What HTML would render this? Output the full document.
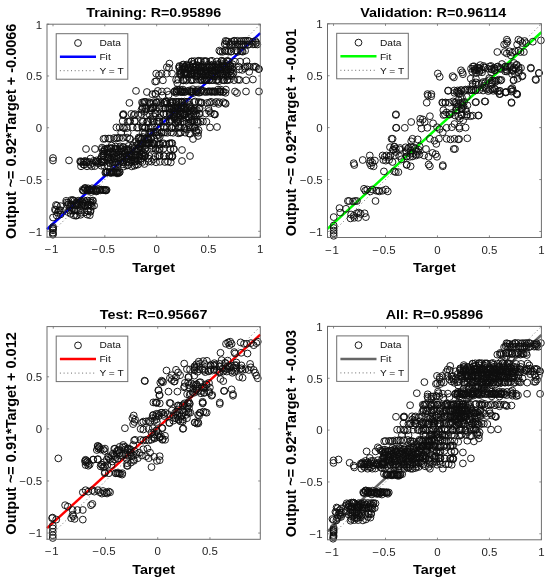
<!DOCTYPE html>
<html><head><meta charset="utf-8"><title>Regression plots</title>
<style>html,body{margin:0;padding:0;background:#fff;}body{width:550px;height:583px;overflow:hidden;}svg{display:block;font-family:"Liberation Sans",Arial,Helvetica,sans-serif;}</style>
</head><body>
<svg width="550" height="583" viewBox="0 0 550 583">
<defs><filter id="soft" x="0" y="0" width="1" height="1"><feGaussianBlur stdDeviation="0.3"/></filter></defs>
<rect width="550" height="583" fill="#fff"/>
<g filter="url(#soft)">
<g><line x1="47.00" y1="237.30" x2="260.30" y2="24.20" stroke="#5a5a5a" stroke-width="0.9" stroke-dasharray="1 2.7"/><line x1="47.00" y1="229.22" x2="260.30" y2="33.17" stroke="#0000ff" stroke-width="2.5"/><g fill="none" stroke="#111" stroke-width="0.95"><circle cx="52.9" cy="234.7" r="3.4"/><circle cx="52.9" cy="232.6" r="3.4"/><circle cx="52.9" cy="228.2" r="3.4"/><circle cx="53.0" cy="229.0" r="3.4"/><circle cx="53.1" cy="227.0" r="3.4"/><circle cx="53.0" cy="233.8" r="3.4"/><circle cx="53.0" cy="230.3" r="3.4"/><circle cx="56.7" cy="215.5" r="3.4"/><circle cx="60.7" cy="210.2" r="3.4"/><circle cx="57.1" cy="205.7" r="3.4"/><circle cx="57.6" cy="212.7" r="3.4"/><circle cx="55.8" cy="210.2" r="3.4"/><circle cx="59.3" cy="210.2" r="3.4"/><circle cx="56.0" cy="205.0" r="3.4"/><circle cx="60.6" cy="206.1" r="3.4"/><circle cx="58.6" cy="211.0" r="3.4"/><circle cx="60.6" cy="214.4" r="3.4"/><circle cx="54.9" cy="209.5" r="3.4"/><circle cx="87.3" cy="200.6" r="3.4"/><circle cx="92.6" cy="201.1" r="3.4"/><circle cx="70.5" cy="204.2" r="3.4"/><circle cx="80.5" cy="200.9" r="3.4"/><circle cx="93.0" cy="200.5" r="3.4"/><circle cx="90.0" cy="204.4" r="3.4"/><circle cx="71.8" cy="204.6" r="3.4"/><circle cx="77.7" cy="203.2" r="3.4"/><circle cx="66.4" cy="202.5" r="3.4"/><circle cx="88.5" cy="204.4" r="3.4"/><circle cx="74.1" cy="205.5" r="3.4"/><circle cx="82.5" cy="201.7" r="3.4"/><circle cx="82.7" cy="202.7" r="3.4"/><circle cx="83.8" cy="200.4" r="3.4"/><circle cx="78.3" cy="200.7" r="3.4"/><circle cx="89.9" cy="202.3" r="3.4"/><circle cx="76.2" cy="203.4" r="3.4"/><circle cx="83.1" cy="203.5" r="3.4"/><circle cx="91.9" cy="202.9" r="3.4"/><circle cx="83.9" cy="205.5" r="3.4"/><circle cx="73.1" cy="200.3" r="3.4"/><circle cx="79.8" cy="202.3" r="3.4"/><circle cx="87.5" cy="205.6" r="3.4"/><circle cx="71.1" cy="200.1" r="3.4"/><circle cx="90.5" cy="200.6" r="3.4"/><circle cx="72.8" cy="200.2" r="3.4"/><circle cx="68.6" cy="204.2" r="3.4"/><circle cx="76.1" cy="202.1" r="3.4"/><circle cx="67.4" cy="205.1" r="3.4"/><circle cx="68.0" cy="202.7" r="3.4"/><circle cx="77.0" cy="205.2" r="3.4"/><circle cx="91.0" cy="205.7" r="3.4"/><circle cx="94.1" cy="205.6" r="3.4"/><circle cx="74.4" cy="201.0" r="3.4"/><circle cx="81.4" cy="204.7" r="3.4"/><circle cx="78.9" cy="204.4" r="3.4"/><circle cx="85.5" cy="202.3" r="3.4"/><circle cx="66.2" cy="200.8" r="3.4"/><circle cx="69.5" cy="210.3" r="3.4"/><circle cx="76.0" cy="210.1" r="3.4"/><circle cx="90.5" cy="210.8" r="3.4"/><circle cx="87.4" cy="210.6" r="3.4"/><circle cx="87.3" cy="214.6" r="3.4"/><circle cx="74.4" cy="210.1" r="3.4"/><circle cx="75.9" cy="215.8" r="3.4"/><circle cx="89.8" cy="215.2" r="3.4"/><circle cx="88.3" cy="211.4" r="3.4"/><circle cx="77.0" cy="215.3" r="3.4"/><circle cx="77.8" cy="211.0" r="3.4"/><circle cx="90.4" cy="211.8" r="3.4"/><circle cx="81.9" cy="205.4" r="3.4"/><circle cx="80.9" cy="212.8" r="3.4"/><circle cx="72.1" cy="210.5" r="3.4"/><circle cx="92.0" cy="206.6" r="3.4"/><circle cx="73.8" cy="215.3" r="3.4"/><circle cx="76.8" cy="205.1" r="3.4"/><circle cx="80.5" cy="214.8" r="3.4"/><circle cx="70.8" cy="213.8" r="3.4"/><circle cx="80.6" cy="210.4" r="3.4"/><circle cx="84.9" cy="212.3" r="3.4"/><circle cx="68.1" cy="212.1" r="3.4"/><circle cx="73.8" cy="210.7" r="3.4"/><circle cx="85.4" cy="205.6" r="3.4"/><circle cx="70.0" cy="207.1" r="3.4"/><circle cx="96.2" cy="190.3" r="3.4"/><circle cx="104.3" cy="190.2" r="3.4"/><circle cx="92.7" cy="190.3" r="3.4"/><circle cx="93.5" cy="190.5" r="3.4"/><circle cx="87.6" cy="190.6" r="3.4"/><circle cx="101.3" cy="189.6" r="3.4"/><circle cx="95.4" cy="189.6" r="3.4"/><circle cx="105.9" cy="190.3" r="3.4"/><circle cx="97.9" cy="188.9" r="3.4"/><circle cx="96.4" cy="190.4" r="3.4"/><circle cx="99.9" cy="189.8" r="3.4"/><circle cx="91.2" cy="192.0" r="3.4"/><circle cx="83.1" cy="190.7" r="3.4"/><circle cx="85.4" cy="188.1" r="3.4"/><circle cx="90.0" cy="190.3" r="3.4"/><circle cx="103.6" cy="189.8" r="3.4"/><circle cx="82.6" cy="189.8" r="3.4"/><circle cx="83.6" cy="190.4" r="3.4"/><circle cx="84.8" cy="189.0" r="3.4"/><circle cx="84.9" cy="188.0" r="3.4"/><circle cx="105.4" cy="190.0" r="3.4"/><circle cx="89.4" cy="190.0" r="3.4"/><circle cx="102.5" cy="189.9" r="3.4"/><circle cx="105.9" cy="190.5" r="3.4"/><circle cx="88.1" cy="188.3" r="3.4"/><circle cx="100.3" cy="190.4" r="3.4"/><circle cx="87.4" cy="190.3" r="3.4"/><circle cx="91.1" cy="190.0" r="3.4"/><circle cx="106.6" cy="189.9" r="3.4"/><circle cx="87.0" cy="189.6" r="3.4"/><circle cx="92.1" cy="188.3" r="3.4"/><circle cx="97.0" cy="191.1" r="3.4"/><circle cx="89.3" cy="189.5" r="3.4"/><circle cx="96.2" cy="191.5" r="3.4"/><circle cx="111.4" cy="173.0" r="3.4"/><circle cx="112.8" cy="172.0" r="3.4"/><circle cx="106.0" cy="172.0" r="3.4"/><circle cx="113.4" cy="172.4" r="3.4"/><circle cx="111.1" cy="172.5" r="3.4"/><circle cx="117.0" cy="173.4" r="3.4"/><circle cx="118.4" cy="173.2" r="3.4"/><circle cx="119.4" cy="172.4" r="3.4"/><circle cx="109.5" cy="172.0" r="3.4"/><circle cx="115.5" cy="172.2" r="3.4"/><circle cx="106.2" cy="172.1" r="3.4"/><circle cx="119.8" cy="172.0" r="3.4"/><circle cx="107.3" cy="172.4" r="3.4"/><circle cx="117.9" cy="171.9" r="3.4"/><circle cx="116.5" cy="172.5" r="3.4"/><circle cx="117.1" cy="172.3" r="3.4"/><circle cx="105.3" cy="172.8" r="3.4"/><circle cx="109.8" cy="172.7" r="3.4"/><circle cx="107.3" cy="172.1" r="3.4"/><circle cx="114.4" cy="172.3" r="3.4"/><circle cx="80.6" cy="162.1" r="3.4"/><circle cx="81.3" cy="161.6" r="3.4"/><circle cx="84.3" cy="164.7" r="3.4"/><circle cx="101.6" cy="162.6" r="3.4"/><circle cx="95.6" cy="161.8" r="3.4"/><circle cx="80.2" cy="161.2" r="3.4"/><circle cx="94.7" cy="166.1" r="3.4"/><circle cx="93.7" cy="160.9" r="3.4"/><circle cx="85.1" cy="160.9" r="3.4"/><circle cx="97.3" cy="162.0" r="3.4"/><circle cx="100.2" cy="159.3" r="3.4"/><circle cx="96.5" cy="160.4" r="3.4"/><circle cx="92.7" cy="163.0" r="3.4"/><circle cx="90.5" cy="158.6" r="3.4"/><circle cx="84.0" cy="162.2" r="3.4"/><circle cx="88.9" cy="161.9" r="3.4"/><circle cx="90.2" cy="164.8" r="3.4"/><circle cx="83.3" cy="161.6" r="3.4"/><circle cx="81.0" cy="166.3" r="3.4"/><circle cx="86.3" cy="162.0" r="3.4"/><circle cx="83.4" cy="164.5" r="3.4"/><circle cx="101.3" cy="161.5" r="3.4"/><circle cx="98.4" cy="163.4" r="3.4"/><circle cx="97.4" cy="161.6" r="3.4"/><circle cx="87.0" cy="162.1" r="3.4"/><circle cx="101.4" cy="165.8" r="3.4"/><circle cx="91.7" cy="166.3" r="3.4"/><circle cx="87.0" cy="166.3" r="3.4"/><circle cx="135.1" cy="151.7" r="3.4"/><circle cx="134.6" cy="161.6" r="3.4"/><circle cx="109.2" cy="157.6" r="3.4"/><circle cx="103.0" cy="151.4" r="3.4"/><circle cx="134.4" cy="148.7" r="3.4"/><circle cx="116.3" cy="152.7" r="3.4"/><circle cx="123.8" cy="147.2" r="3.4"/><circle cx="101.7" cy="156.2" r="3.4"/><circle cx="140.6" cy="161.1" r="3.4"/><circle cx="123.7" cy="166.5" r="3.4"/><circle cx="143.0" cy="152.4" r="3.4"/><circle cx="122.4" cy="154.8" r="3.4"/><circle cx="123.0" cy="161.9" r="3.4"/><circle cx="124.3" cy="150.0" r="3.4"/><circle cx="145.0" cy="145.5" r="3.4"/><circle cx="103.0" cy="155.0" r="3.4"/><circle cx="142.2" cy="148.5" r="3.4"/><circle cx="108.1" cy="160.3" r="3.4"/><circle cx="120.4" cy="157.6" r="3.4"/><circle cx="107.4" cy="149.1" r="3.4"/><circle cx="118.7" cy="150.7" r="3.4"/><circle cx="122.9" cy="164.4" r="3.4"/><circle cx="128.4" cy="146.0" r="3.4"/><circle cx="111.6" cy="156.0" r="3.4"/><circle cx="130.9" cy="154.7" r="3.4"/><circle cx="109.2" cy="162.0" r="3.4"/><circle cx="118.6" cy="154.1" r="3.4"/><circle cx="109.9" cy="152.2" r="3.4"/><circle cx="128.9" cy="149.0" r="3.4"/><circle cx="125.0" cy="157.2" r="3.4"/><circle cx="104.9" cy="149.0" r="3.4"/><circle cx="128.9" cy="156.1" r="3.4"/><circle cx="126.7" cy="162.0" r="3.4"/><circle cx="107.4" cy="153.8" r="3.4"/><circle cx="102.4" cy="161.7" r="3.4"/><circle cx="108.4" cy="158.5" r="3.4"/><circle cx="111.1" cy="159.7" r="3.4"/><circle cx="131.6" cy="162.1" r="3.4"/><circle cx="126.7" cy="159.3" r="3.4"/><circle cx="121.6" cy="151.5" r="3.4"/><circle cx="108.1" cy="152.7" r="3.4"/><circle cx="109.3" cy="148.3" r="3.4"/><circle cx="126.4" cy="149.1" r="3.4"/><circle cx="141.4" cy="158.6" r="3.4"/><circle cx="138.1" cy="160.0" r="3.4"/><circle cx="110.7" cy="148.5" r="3.4"/><circle cx="120.2" cy="146.4" r="3.4"/><circle cx="123.3" cy="162.4" r="3.4"/><circle cx="138.7" cy="148.5" r="3.4"/><circle cx="136.1" cy="145.6" r="3.4"/><circle cx="122.8" cy="147.0" r="3.4"/><circle cx="115.3" cy="148.5" r="3.4"/><circle cx="122.2" cy="156.5" r="3.4"/><circle cx="114.9" cy="162.5" r="3.4"/><circle cx="137.9" cy="164.6" r="3.4"/><circle cx="141.6" cy="154.4" r="3.4"/><circle cx="124.8" cy="154.1" r="3.4"/><circle cx="113.8" cy="157.2" r="3.4"/><circle cx="134.1" cy="159.8" r="3.4"/><circle cx="128.3" cy="150.6" r="3.4"/><circle cx="104.3" cy="166.1" r="3.4"/><circle cx="103.5" cy="155.7" r="3.4"/><circle cx="131.7" cy="155.7" r="3.4"/><circle cx="101.1" cy="161.9" r="3.4"/><circle cx="137.0" cy="155.7" r="3.4"/><circle cx="127.3" cy="149.7" r="3.4"/><circle cx="103.3" cy="156.1" r="3.4"/><circle cx="108.1" cy="157.9" r="3.4"/><circle cx="139.7" cy="156.2" r="3.4"/><circle cx="104.5" cy="150.0" r="3.4"/><circle cx="116.7" cy="158.3" r="3.4"/><circle cx="103.8" cy="162.4" r="3.4"/><circle cx="115.9" cy="149.0" r="3.4"/><circle cx="114.2" cy="158.5" r="3.4"/><circle cx="134.5" cy="165.7" r="3.4"/><circle cx="140.1" cy="146.1" r="3.4"/><circle cx="104.1" cy="153.4" r="3.4"/><circle cx="135.7" cy="154.7" r="3.4"/><circle cx="144.5" cy="155.7" r="3.4"/><circle cx="113.2" cy="165.0" r="3.4"/><circle cx="134.7" cy="157.6" r="3.4"/><circle cx="107.2" cy="156.5" r="3.4"/><circle cx="107.0" cy="148.5" r="3.4"/><circle cx="115.2" cy="165.0" r="3.4"/><circle cx="126.4" cy="156.4" r="3.4"/><circle cx="131.0" cy="150.0" r="3.4"/><circle cx="102.0" cy="147.6" r="3.4"/><circle cx="142.4" cy="156.1" r="3.4"/><circle cx="144.4" cy="164.0" r="3.4"/><circle cx="130.6" cy="159.6" r="3.4"/><circle cx="132.2" cy="157.7" r="3.4"/><circle cx="104.4" cy="159.4" r="3.4"/><circle cx="118.7" cy="158.0" r="3.4"/><circle cx="111.6" cy="145.6" r="3.4"/><circle cx="137.9" cy="148.7" r="3.4"/><circle cx="115.5" cy="146.5" r="3.4"/><circle cx="127.1" cy="165.5" r="3.4"/><circle cx="131.8" cy="166.4" r="3.4"/><circle cx="120.4" cy="161.6" r="3.4"/><circle cx="143.4" cy="153.2" r="3.4"/><circle cx="135.7" cy="156.1" r="3.4"/><circle cx="114.4" cy="153.6" r="3.4"/><circle cx="144.4" cy="157.0" r="3.4"/><circle cx="101.9" cy="149.1" r="3.4"/><circle cx="121.8" cy="149.0" r="3.4"/><circle cx="125.6" cy="152.7" r="3.4"/><circle cx="123.1" cy="151.9" r="3.4"/><circle cx="122.5" cy="159.5" r="3.4"/><circle cx="108.2" cy="165.8" r="3.4"/><circle cx="115.9" cy="156.2" r="3.4"/><circle cx="142.5" cy="162.0" r="3.4"/><circle cx="104.1" cy="151.6" r="3.4"/><circle cx="117.9" cy="164.3" r="3.4"/><circle cx="110.1" cy="163.4" r="3.4"/><circle cx="112.3" cy="162.2" r="3.4"/><circle cx="132.9" cy="145.6" r="3.4"/><circle cx="128.1" cy="165.0" r="3.4"/><circle cx="139.6" cy="146.8" r="3.4"/><circle cx="118.8" cy="163.8" r="3.4"/><circle cx="139.5" cy="155.9" r="3.4"/><circle cx="128.0" cy="159.1" r="3.4"/><circle cx="115.9" cy="161.9" r="3.4"/><circle cx="137.8" cy="160.4" r="3.4"/><circle cx="137.0" cy="148.8" r="3.4"/><circle cx="140.9" cy="148.1" r="3.4"/><circle cx="132.2" cy="147.4" r="3.4"/><circle cx="135.5" cy="161.6" r="3.4"/><circle cx="137.3" cy="151.3" r="3.4"/><circle cx="119.8" cy="148.5" r="3.4"/><circle cx="129.8" cy="154.4" r="3.4"/><circle cx="111.2" cy="148.0" r="3.4"/><circle cx="129.8" cy="162.5" r="3.4"/><circle cx="144.8" cy="149.3" r="3.4"/><circle cx="114.8" cy="149.1" r="3.4"/><circle cx="127.6" cy="155.7" r="3.4"/><circle cx="136.0" cy="164.5" r="3.4"/><circle cx="117.1" cy="149.9" r="3.4"/><circle cx="134.4" cy="155.8" r="3.4"/><circle cx="112.6" cy="151.4" r="3.4"/><circle cx="113.1" cy="153.9" r="3.4"/><circle cx="151.4" cy="161.6" r="3.4"/><circle cx="155.4" cy="149.1" r="3.4"/><circle cx="159.0" cy="148.8" r="3.4"/><circle cx="145.3" cy="154.1" r="3.4"/><circle cx="156.1" cy="162.3" r="3.4"/><circle cx="163.6" cy="148.6" r="3.4"/><circle cx="170.8" cy="162.4" r="3.4"/><circle cx="169.4" cy="155.9" r="3.4"/><circle cx="169.8" cy="143.2" r="3.4"/><circle cx="169.3" cy="156.3" r="3.4"/><circle cx="153.3" cy="143.8" r="3.4"/><circle cx="157.9" cy="156.2" r="3.4"/><circle cx="172.1" cy="155.7" r="3.4"/><circle cx="172.3" cy="143.3" r="3.4"/><circle cx="163.7" cy="155.8" r="3.4"/><circle cx="166.3" cy="144.6" r="3.4"/><circle cx="159.9" cy="144.7" r="3.4"/><circle cx="173.6" cy="149.4" r="3.4"/><circle cx="159.4" cy="155.8" r="3.4"/><circle cx="145.4" cy="143.3" r="3.4"/><circle cx="159.9" cy="161.8" r="3.4"/><circle cx="170.4" cy="149.1" r="3.4"/><circle cx="151.6" cy="148.8" r="3.4"/><circle cx="159.7" cy="149.2" r="3.4"/><circle cx="162.6" cy="143.9" r="3.4"/><circle cx="172.5" cy="156.3" r="3.4"/><circle cx="164.9" cy="162.0" r="3.4"/><circle cx="149.0" cy="155.9" r="3.4"/><circle cx="145.3" cy="148.6" r="3.4"/><circle cx="148.7" cy="158.6" r="3.4"/><circle cx="167.9" cy="161.7" r="3.4"/><circle cx="156.0" cy="148.6" r="3.4"/><circle cx="148.6" cy="161.6" r="3.4"/><circle cx="155.3" cy="156.4" r="3.4"/><circle cx="145.1" cy="156.0" r="3.4"/><circle cx="171.4" cy="143.2" r="3.4"/><circle cx="152.5" cy="143.3" r="3.4"/><circle cx="164.3" cy="156.3" r="3.4"/><circle cx="153.1" cy="148.3" r="3.4"/><circle cx="163.5" cy="143.3" r="3.4"/><circle cx="159.7" cy="155.8" r="3.4"/><circle cx="148.7" cy="143.0" r="3.4"/><circle cx="153.4" cy="159.3" r="3.4"/><circle cx="148.7" cy="143.4" r="3.4"/><circle cx="169.3" cy="143.7" r="3.4"/><circle cx="148.7" cy="139.5" r="3.4"/><circle cx="147.5" cy="139.3" r="3.4"/><circle cx="138.3" cy="138.9" r="3.4"/><circle cx="144.7" cy="138.5" r="3.4"/><circle cx="146.9" cy="143.7" r="3.4"/><circle cx="138.7" cy="137.5" r="3.4"/><circle cx="142.9" cy="137.0" r="3.4"/><circle cx="140.4" cy="137.7" r="3.4"/><circle cx="141.6" cy="143.9" r="3.4"/><circle cx="148.1" cy="143.7" r="3.4"/><circle cx="137.9" cy="144.3" r="3.4"/><circle cx="148.8" cy="139.3" r="3.4"/><circle cx="139.2" cy="138.6" r="3.4"/><circle cx="146.8" cy="143.8" r="3.4"/><circle cx="142.6" cy="143.8" r="3.4"/><circle cx="146.4" cy="138.8" r="3.4"/><circle cx="141.6" cy="139.1" r="3.4"/><circle cx="140.4" cy="143.8" r="3.4"/><circle cx="136.2" cy="141.7" r="3.4"/><circle cx="142.3" cy="143.9" r="3.4"/><circle cx="147.8" cy="139.0" r="3.4"/><circle cx="149.8" cy="143.1" r="3.4"/><circle cx="150.4" cy="132.0" r="3.4"/><circle cx="159.2" cy="143.8" r="3.4"/><circle cx="159.7" cy="136.9" r="3.4"/><circle cx="157.1" cy="132.0" r="3.4"/><circle cx="158.3" cy="144.9" r="3.4"/><circle cx="157.7" cy="138.7" r="3.4"/><circle cx="147.1" cy="142.3" r="3.4"/><circle cx="154.3" cy="138.9" r="3.4"/><circle cx="150.8" cy="137.4" r="3.4"/><circle cx="151.6" cy="145.6" r="3.4"/><circle cx="154.3" cy="143.9" r="3.4"/><circle cx="151.2" cy="139.0" r="3.4"/><circle cx="149.4" cy="132.8" r="3.4"/><circle cx="119.4" cy="137.8" r="3.4"/><circle cx="130.2" cy="138.9" r="3.4"/><circle cx="127.1" cy="137.6" r="3.4"/><circle cx="114.1" cy="138.0" r="3.4"/><circle cx="105.1" cy="138.6" r="3.4"/><circle cx="117.5" cy="137.9" r="3.4"/><circle cx="129.5" cy="138.7" r="3.4"/><circle cx="110.1" cy="138.6" r="3.4"/><circle cx="108.3" cy="138.6" r="3.4"/><circle cx="122.7" cy="137.9" r="3.4"/><circle cx="103.5" cy="138.9" r="3.4"/><circle cx="116.0" cy="138.6" r="3.4"/><circle cx="159.5" cy="121.7" r="3.4"/><circle cx="152.7" cy="127.3" r="3.4"/><circle cx="179.8" cy="132.9" r="3.4"/><circle cx="148.7" cy="128.0" r="3.4"/><circle cx="170.2" cy="121.5" r="3.4"/><circle cx="146.2" cy="108.9" r="3.4"/><circle cx="160.3" cy="113.7" r="3.4"/><circle cx="159.0" cy="121.3" r="3.4"/><circle cx="178.6" cy="127.6" r="3.4"/><circle cx="170.6" cy="112.6" r="3.4"/><circle cx="184.3" cy="127.9" r="3.4"/><circle cx="141.5" cy="109.7" r="3.4"/><circle cx="171.0" cy="103.4" r="3.4"/><circle cx="163.5" cy="113.9" r="3.4"/><circle cx="163.5" cy="132.7" r="3.4"/><circle cx="169.3" cy="108.3" r="3.4"/><circle cx="157.5" cy="127.7" r="3.4"/><circle cx="156.8" cy="121.2" r="3.4"/><circle cx="145.2" cy="108.0" r="3.4"/><circle cx="172.2" cy="121.2" r="3.4"/><circle cx="182.4" cy="113.9" r="3.4"/><circle cx="167.0" cy="127.8" r="3.4"/><circle cx="156.6" cy="135.4" r="3.4"/><circle cx="178.7" cy="101.8" r="3.4"/><circle cx="142.6" cy="106.9" r="3.4"/><circle cx="184.1" cy="121.6" r="3.4"/><circle cx="180.7" cy="102.3" r="3.4"/><circle cx="155.7" cy="108.8" r="3.4"/><circle cx="156.1" cy="102.4" r="3.4"/><circle cx="178.0" cy="108.8" r="3.4"/><circle cx="161.5" cy="132.7" r="3.4"/><circle cx="165.4" cy="132.4" r="3.4"/><circle cx="144.1" cy="102.0" r="3.4"/><circle cx="165.3" cy="120.4" r="3.4"/><circle cx="159.0" cy="117.6" r="3.4"/><circle cx="152.3" cy="107.4" r="3.4"/><circle cx="160.3" cy="127.3" r="3.4"/><circle cx="184.4" cy="128.2" r="3.4"/><circle cx="155.1" cy="113.6" r="3.4"/><circle cx="161.8" cy="132.1" r="3.4"/><circle cx="182.9" cy="121.2" r="3.4"/><circle cx="146.5" cy="115.3" r="3.4"/><circle cx="178.2" cy="133.3" r="3.4"/><circle cx="175.2" cy="123.0" r="3.4"/><circle cx="153.8" cy="121.4" r="3.4"/><circle cx="173.3" cy="101.9" r="3.4"/><circle cx="153.5" cy="132.1" r="3.4"/><circle cx="177.2" cy="114.1" r="3.4"/><circle cx="166.2" cy="113.7" r="3.4"/><circle cx="173.8" cy="114.4" r="3.4"/><circle cx="150.7" cy="119.1" r="3.4"/><circle cx="174.2" cy="108.3" r="3.4"/><circle cx="171.2" cy="108.9" r="3.4"/><circle cx="144.7" cy="127.8" r="3.4"/><circle cx="171.4" cy="127.5" r="3.4"/><circle cx="149.9" cy="103.8" r="3.4"/><circle cx="156.9" cy="102.5" r="3.4"/><circle cx="175.8" cy="108.5" r="3.4"/><circle cx="183.4" cy="108.9" r="3.4"/><circle cx="147.1" cy="121.7" r="3.4"/><circle cx="180.8" cy="108.3" r="3.4"/><circle cx="170.8" cy="132.4" r="3.4"/><circle cx="182.8" cy="101.9" r="3.4"/><circle cx="150.9" cy="108.2" r="3.4"/><circle cx="179.7" cy="127.5" r="3.4"/><circle cx="149.2" cy="102.2" r="3.4"/><circle cx="163.2" cy="121.3" r="3.4"/><circle cx="153.7" cy="106.8" r="3.4"/><circle cx="173.1" cy="132.8" r="3.4"/><circle cx="180.3" cy="114.0" r="3.4"/><circle cx="149.3" cy="114.3" r="3.4"/><circle cx="164.1" cy="102.4" r="3.4"/><circle cx="165.5" cy="108.1" r="3.4"/><circle cx="142.2" cy="126.3" r="3.4"/><circle cx="142.5" cy="121.4" r="3.4"/><circle cx="152.4" cy="121.0" r="3.4"/><circle cx="142.5" cy="128.0" r="3.4"/><circle cx="180.5" cy="121.8" r="3.4"/><circle cx="158.7" cy="135.1" r="3.4"/><circle cx="143.2" cy="121.8" r="3.4"/><circle cx="146.0" cy="101.9" r="3.4"/><circle cx="185.1" cy="113.8" r="3.4"/><circle cx="171.8" cy="128.1" r="3.4"/><circle cx="144.9" cy="132.9" r="3.4"/><circle cx="150.3" cy="108.3" r="3.4"/><circle cx="145.4" cy="127.5" r="3.4"/><circle cx="168.0" cy="108.6" r="3.4"/><circle cx="169.6" cy="114.2" r="3.4"/><circle cx="158.3" cy="101.9" r="3.4"/><circle cx="150.5" cy="132.7" r="3.4"/><circle cx="181.6" cy="101.7" r="3.4"/><circle cx="185.0" cy="115.0" r="3.4"/><circle cx="167.4" cy="132.8" r="3.4"/><circle cx="144.7" cy="102.0" r="3.4"/><circle cx="159.5" cy="108.7" r="3.4"/><circle cx="151.6" cy="132.2" r="3.4"/><circle cx="175.6" cy="128.1" r="3.4"/><circle cx="165.1" cy="108.4" r="3.4"/><circle cx="163.7" cy="113.9" r="3.4"/><circle cx="178.0" cy="121.4" r="3.4"/><circle cx="180.7" cy="127.7" r="3.4"/><circle cx="165.8" cy="101.6" r="3.4"/><circle cx="172.5" cy="101.8" r="3.4"/><circle cx="183.3" cy="105.5" r="3.4"/><circle cx="169.8" cy="121.3" r="3.4"/><circle cx="165.4" cy="121.6" r="3.4"/><circle cx="172.2" cy="127.8" r="3.4"/><circle cx="153.7" cy="116.4" r="3.4"/><circle cx="142.6" cy="108.5" r="3.4"/><circle cx="150.5" cy="128.0" r="3.4"/><circle cx="178.0" cy="122.0" r="3.4"/><circle cx="157.9" cy="121.5" r="3.4"/><circle cx="152.6" cy="108.4" r="3.4"/><circle cx="178.9" cy="127.4" r="3.4"/><circle cx="166.4" cy="101.6" r="3.4"/><circle cx="147.5" cy="121.3" r="3.4"/><circle cx="141.4" cy="114.2" r="3.4"/><circle cx="163.0" cy="108.8" r="3.4"/><circle cx="155.1" cy="132.1" r="3.4"/><circle cx="178.7" cy="108.6" r="3.4"/><circle cx="153.7" cy="102.2" r="3.4"/><circle cx="164.4" cy="127.6" r="3.4"/><circle cx="159.9" cy="105.9" r="3.4"/><circle cx="174.2" cy="114.3" r="3.4"/><circle cx="148.4" cy="121.8" r="3.4"/><circle cx="163.6" cy="127.2" r="3.4"/><circle cx="185.1" cy="132.6" r="3.4"/><circle cx="180.8" cy="132.5" r="3.4"/><circle cx="142.8" cy="132.6" r="3.4"/><circle cx="155.9" cy="113.5" r="3.4"/><circle cx="180.6" cy="111.3" r="3.4"/><circle cx="173.3" cy="107.1" r="3.4"/><circle cx="189.7" cy="104.9" r="3.4"/><circle cx="184.2" cy="109.0" r="3.4"/><circle cx="173.8" cy="117.1" r="3.4"/><circle cx="177.2" cy="110.2" r="3.4"/><circle cx="179.0" cy="119.8" r="3.4"/><circle cx="175.2" cy="113.1" r="3.4"/><circle cx="176.9" cy="119.9" r="3.4"/><circle cx="185.1" cy="108.1" r="3.4"/><circle cx="185.4" cy="111.0" r="3.4"/><circle cx="175.1" cy="116.6" r="3.4"/><circle cx="180.8" cy="105.5" r="3.4"/><circle cx="191.6" cy="116.7" r="3.4"/><circle cx="192.8" cy="111.0" r="3.4"/><circle cx="181.4" cy="108.6" r="3.4"/><circle cx="176.9" cy="108.1" r="3.4"/><circle cx="178.1" cy="117.4" r="3.4"/><circle cx="169.9" cy="108.9" r="3.4"/><circle cx="174.5" cy="118.8" r="3.4"/><circle cx="171.3" cy="105.9" r="3.4"/><circle cx="173.3" cy="110.8" r="3.4"/><circle cx="186.1" cy="117.7" r="3.4"/><circle cx="189.1" cy="118.9" r="3.4"/><circle cx="190.9" cy="108.9" r="3.4"/><circle cx="189.8" cy="110.5" r="3.4"/><circle cx="187.7" cy="111.8" r="3.4"/><circle cx="183.0" cy="114.1" r="3.4"/><circle cx="188.6" cy="117.1" r="3.4"/><circle cx="184.5" cy="114.9" r="3.4"/><circle cx="190.2" cy="106.5" r="3.4"/><circle cx="171.2" cy="119.8" r="3.4"/><circle cx="192.5" cy="120.1" r="3.4"/><circle cx="174.9" cy="111.6" r="3.4"/><circle cx="183.4" cy="113.9" r="3.4"/><circle cx="181.5" cy="107.4" r="3.4"/><circle cx="169.9" cy="114.0" r="3.4"/><circle cx="181.9" cy="118.4" r="3.4"/><circle cx="170.8" cy="115.6" r="3.4"/><circle cx="178.1" cy="107.5" r="3.4"/><circle cx="122.7" cy="121.1" r="3.4"/><circle cx="137.0" cy="127.8" r="3.4"/><circle cx="124.1" cy="128.2" r="3.4"/><circle cx="130.2" cy="121.1" r="3.4"/><circle cx="127.7" cy="121.5" r="3.4"/><circle cx="134.9" cy="114.1" r="3.4"/><circle cx="131.3" cy="113.9" r="3.4"/><circle cx="127.7" cy="132.8" r="3.4"/><circle cx="121.2" cy="132.7" r="3.4"/><circle cx="134.7" cy="121.5" r="3.4"/><circle cx="123.4" cy="114.0" r="3.4"/><circle cx="138.0" cy="127.5" r="3.4"/><circle cx="194.8" cy="119.5" r="3.4"/><circle cx="193.0" cy="110.0" r="3.4"/><circle cx="192.9" cy="127.3" r="3.4"/><circle cx="197.1" cy="121.7" r="3.4"/><circle cx="196.1" cy="132.0" r="3.4"/><circle cx="191.4" cy="121.1" r="3.4"/><circle cx="198.5" cy="122.8" r="3.4"/><circle cx="189.1" cy="133.6" r="3.4"/><circle cx="194.6" cy="128.1" r="3.4"/><circle cx="189.0" cy="125.4" r="3.4"/><circle cx="193.8" cy="113.8" r="3.4"/><circle cx="194.8" cy="108.6" r="3.4"/><circle cx="188.6" cy="117.0" r="3.4"/><circle cx="196.2" cy="130.7" r="3.4"/><circle cx="189.6" cy="127.4" r="3.4"/><circle cx="190.7" cy="121.8" r="3.4"/><circle cx="199.1" cy="108.9" r="3.4"/><circle cx="190.0" cy="113.7" r="3.4"/><circle cx="199.7" cy="113.9" r="3.4"/><circle cx="198.6" cy="130.1" r="3.4"/><circle cx="199.0" cy="113.6" r="3.4"/><circle cx="187.2" cy="129.7" r="3.4"/><circle cx="195.5" cy="114.4" r="3.4"/><circle cx="188.3" cy="108.0" r="3.4"/><circle cx="186.8" cy="108.9" r="3.4"/><circle cx="190.3" cy="133.8" r="3.4"/><circle cx="191.5" cy="108.6" r="3.4"/><circle cx="194.2" cy="121.7" r="3.4"/><circle cx="198.1" cy="132.8" r="3.4"/><circle cx="188.4" cy="123.0" r="3.4"/><circle cx="214.6" cy="114.4" r="3.4"/><circle cx="203.0" cy="121.5" r="3.4"/><circle cx="196.7" cy="115.2" r="3.4"/><circle cx="206.4" cy="121.7" r="3.4"/><circle cx="205.9" cy="113.6" r="3.4"/><circle cx="196.8" cy="110.0" r="3.4"/><circle cx="197.1" cy="121.8" r="3.4"/><circle cx="210.0" cy="127.4" r="3.4"/><circle cx="210.7" cy="113.0" r="3.4"/><circle cx="200.8" cy="121.5" r="3.4"/><circle cx="208.4" cy="108.4" r="3.4"/><circle cx="199.8" cy="108.0" r="3.4"/><circle cx="181.9" cy="102.3" r="3.4"/><circle cx="200.4" cy="102.4" r="3.4"/><circle cx="175.8" cy="101.7" r="3.4"/><circle cx="216.3" cy="101.9" r="3.4"/><circle cx="223.2" cy="102.2" r="3.4"/><circle cx="219.2" cy="102.2" r="3.4"/><circle cx="194.0" cy="102.1" r="3.4"/><circle cx="184.6" cy="101.6" r="3.4"/><circle cx="209.6" cy="102.6" r="3.4"/><circle cx="178.9" cy="102.0" r="3.4"/><circle cx="166.4" cy="102.0" r="3.4"/><circle cx="198.7" cy="102.0" r="3.4"/><circle cx="161.0" cy="103.2" r="3.4"/><circle cx="211.1" cy="101.8" r="3.4"/><circle cx="164.3" cy="103.0" r="3.4"/><circle cx="171.7" cy="102.1" r="3.4"/><circle cx="201.9" cy="102.6" r="3.4"/><circle cx="167.1" cy="103.7" r="3.4"/><circle cx="218.5" cy="103.9" r="3.4"/><circle cx="188.9" cy="101.8" r="3.4"/><circle cx="187.1" cy="101.8" r="3.4"/><circle cx="225.7" cy="103.8" r="3.4"/><circle cx="195.2" cy="101.5" r="3.4"/><circle cx="176.7" cy="101.9" r="3.4"/><circle cx="170.1" cy="102.1" r="3.4"/><circle cx="182.3" cy="91.2" r="3.4"/><circle cx="219.8" cy="91.6" r="3.4"/><circle cx="225.5" cy="92.8" r="3.4"/><circle cx="176.5" cy="91.4" r="3.4"/><circle cx="212.6" cy="91.7" r="3.4"/><circle cx="209.9" cy="91.4" r="3.4"/><circle cx="223.7" cy="91.9" r="3.4"/><circle cx="176.3" cy="91.1" r="3.4"/><circle cx="189.8" cy="91.7" r="3.4"/><circle cx="213.1" cy="91.2" r="3.4"/><circle cx="177.0" cy="89.6" r="3.4"/><circle cx="220.4" cy="91.3" r="3.4"/><circle cx="225.9" cy="89.6" r="3.4"/><circle cx="185.4" cy="91.7" r="3.4"/><circle cx="219.5" cy="91.6" r="3.4"/><circle cx="214.8" cy="91.6" r="3.4"/><circle cx="193.2" cy="91.5" r="3.4"/><circle cx="182.3" cy="91.5" r="3.4"/><circle cx="183.0" cy="89.6" r="3.4"/><circle cx="218.1" cy="89.6" r="3.4"/><circle cx="180.2" cy="89.7" r="3.4"/><circle cx="192.1" cy="91.5" r="3.4"/><circle cx="203.6" cy="91.0" r="3.4"/><circle cx="174.2" cy="92.1" r="3.4"/><circle cx="207.9" cy="91.6" r="3.4"/><circle cx="201.2" cy="90.0" r="3.4"/><circle cx="192.8" cy="93.2" r="3.4"/><circle cx="197.1" cy="91.4" r="3.4"/><circle cx="176.1" cy="92.9" r="3.4"/><circle cx="198.9" cy="92.7" r="3.4"/><circle cx="222.7" cy="91.9" r="3.4"/><circle cx="184.2" cy="92.2" r="3.4"/><circle cx="211.0" cy="91.9" r="3.4"/><circle cx="177.0" cy="91.7" r="3.4"/><circle cx="174.6" cy="91.2" r="3.4"/><circle cx="191.1" cy="91.3" r="3.4"/><circle cx="196.4" cy="92.0" r="3.4"/><circle cx="197.3" cy="92.2" r="3.4"/><circle cx="211.2" cy="91.4" r="3.4"/><circle cx="181.7" cy="92.1" r="3.4"/><circle cx="180.2" cy="91.4" r="3.4"/><circle cx="195.9" cy="91.1" r="3.4"/><circle cx="178.5" cy="90.5" r="3.4"/><circle cx="206.4" cy="92.0" r="3.4"/><circle cx="197.4" cy="89.8" r="3.4"/><circle cx="184.3" cy="91.2" r="3.4"/><circle cx="192.8" cy="89.2" r="3.4"/><circle cx="191.8" cy="92.0" r="3.4"/><circle cx="220.7" cy="89.6" r="3.4"/><circle cx="214.2" cy="91.6" r="3.4"/><circle cx="189.2" cy="90.5" r="3.4"/><circle cx="204.5" cy="91.9" r="3.4"/><circle cx="187.5" cy="91.2" r="3.4"/><circle cx="217.5" cy="91.8" r="3.4"/><circle cx="180.5" cy="92.0" r="3.4"/><circle cx="220.8" cy="91.8" r="3.4"/><circle cx="208.7" cy="91.3" r="3.4"/><circle cx="215.5" cy="91.9" r="3.4"/><circle cx="201.1" cy="90.9" r="3.4"/><circle cx="200.6" cy="92.2" r="3.4"/><circle cx="155.2" cy="93.6" r="3.4"/><circle cx="168.7" cy="94.8" r="3.4"/><circle cx="167.1" cy="91.3" r="3.4"/><circle cx="162.5" cy="95.4" r="3.4"/><circle cx="161.9" cy="91.5" r="3.4"/><circle cx="191.9" cy="80.2" r="3.4"/><circle cx="224.2" cy="80.3" r="3.4"/><circle cx="252.9" cy="79.5" r="3.4"/><circle cx="238.0" cy="79.6" r="3.4"/><circle cx="186.2" cy="80.5" r="3.4"/><circle cx="162.9" cy="80.3" r="3.4"/><circle cx="183.2" cy="80.3" r="3.4"/><circle cx="218.7" cy="81.2" r="3.4"/><circle cx="176.1" cy="79.9" r="3.4"/><circle cx="156.4" cy="81.2" r="3.4"/><circle cx="239.5" cy="80.0" r="3.4"/><circle cx="204.5" cy="79.8" r="3.4"/><circle cx="246.1" cy="80.3" r="3.4"/><circle cx="227.2" cy="80.0" r="3.4"/><circle cx="217.1" cy="80.0" r="3.4"/><circle cx="216.1" cy="80.5" r="3.4"/><circle cx="201.8" cy="80.0" r="3.4"/><circle cx="212.0" cy="80.1" r="3.4"/><circle cx="196.6" cy="79.7" r="3.4"/><circle cx="227.4" cy="80.2" r="3.4"/><circle cx="190.9" cy="80.2" r="3.4"/><circle cx="208.9" cy="80.2" r="3.4"/><circle cx="183.1" cy="80.4" r="3.4"/><circle cx="229.8" cy="79.7" r="3.4"/><circle cx="195.9" cy="66.9" r="3.4"/><circle cx="225.5" cy="67.8" r="3.4"/><circle cx="183.8" cy="68.2" r="3.4"/><circle cx="181.6" cy="72.0" r="3.4"/><circle cx="180.8" cy="74.1" r="3.4"/><circle cx="211.6" cy="65.6" r="3.4"/><circle cx="222.4" cy="64.1" r="3.4"/><circle cx="198.4" cy="65.7" r="3.4"/><circle cx="190.6" cy="74.0" r="3.4"/><circle cx="228.5" cy="66.9" r="3.4"/><circle cx="199.3" cy="68.4" r="3.4"/><circle cx="205.7" cy="69.9" r="3.4"/><circle cx="209.1" cy="75.7" r="3.4"/><circle cx="218.1" cy="64.0" r="3.4"/><circle cx="231.7" cy="76.1" r="3.4"/><circle cx="202.4" cy="64.8" r="3.4"/><circle cx="230.9" cy="73.6" r="3.4"/><circle cx="208.2" cy="71.1" r="3.4"/><circle cx="206.5" cy="67.0" r="3.4"/><circle cx="225.9" cy="75.2" r="3.4"/><circle cx="190.7" cy="74.2" r="3.4"/><circle cx="207.3" cy="72.8" r="3.4"/><circle cx="191.8" cy="73.3" r="3.4"/><circle cx="224.2" cy="66.8" r="3.4"/><circle cx="197.1" cy="73.4" r="3.4"/><circle cx="231.9" cy="68.8" r="3.4"/><circle cx="183.7" cy="74.1" r="3.4"/><circle cx="180.1" cy="70.7" r="3.4"/><circle cx="216.5" cy="67.9" r="3.4"/><circle cx="215.8" cy="71.3" r="3.4"/><circle cx="203.6" cy="71.7" r="3.4"/><circle cx="230.6" cy="66.2" r="3.4"/><circle cx="179.6" cy="74.0" r="3.4"/><circle cx="196.3" cy="76.4" r="3.4"/><circle cx="215.3" cy="66.9" r="3.4"/><circle cx="211.9" cy="75.3" r="3.4"/><circle cx="223.3" cy="73.6" r="3.4"/><circle cx="212.5" cy="70.5" r="3.4"/><circle cx="220.0" cy="73.4" r="3.4"/><circle cx="216.8" cy="73.2" r="3.4"/><circle cx="206.0" cy="69.9" r="3.4"/><circle cx="190.9" cy="68.3" r="3.4"/><circle cx="183.5" cy="64.5" r="3.4"/><circle cx="222.2" cy="67.2" r="3.4"/><circle cx="200.8" cy="76.2" r="3.4"/><circle cx="217.8" cy="69.4" r="3.4"/><circle cx="222.4" cy="73.8" r="3.4"/><circle cx="209.7" cy="65.9" r="3.4"/><circle cx="194.6" cy="70.1" r="3.4"/><circle cx="221.5" cy="75.1" r="3.4"/><circle cx="226.2" cy="64.1" r="3.4"/><circle cx="232.5" cy="64.2" r="3.4"/><circle cx="213.6" cy="76.4" r="3.4"/><circle cx="206.0" cy="75.1" r="3.4"/><circle cx="184.9" cy="66.8" r="3.4"/><circle cx="179.2" cy="68.2" r="3.4"/><circle cx="223.2" cy="75.7" r="3.4"/><circle cx="228.2" cy="73.7" r="3.4"/><circle cx="187.7" cy="67.6" r="3.4"/><circle cx="232.7" cy="73.9" r="3.4"/><circle cx="229.9" cy="75.4" r="3.4"/><circle cx="197.7" cy="74.0" r="3.4"/><circle cx="190.1" cy="67.8" r="3.4"/><circle cx="186.8" cy="73.3" r="3.4"/><circle cx="179.1" cy="66.9" r="3.4"/><circle cx="226.6" cy="72.1" r="3.4"/><circle cx="224.9" cy="66.9" r="3.4"/><circle cx="189.8" cy="65.6" r="3.4"/><circle cx="194.4" cy="74.0" r="3.4"/><circle cx="194.2" cy="72.6" r="3.4"/><circle cx="228.0" cy="69.3" r="3.4"/><circle cx="205.4" cy="75.2" r="3.4"/><circle cx="191.1" cy="70.6" r="3.4"/><circle cx="213.2" cy="64.4" r="3.4"/><circle cx="210.6" cy="72.0" r="3.4"/><circle cx="216.4" cy="66.0" r="3.4"/><circle cx="200.8" cy="70.3" r="3.4"/><circle cx="187.0" cy="64.5" r="3.4"/><circle cx="193.2" cy="66.7" r="3.4"/><circle cx="208.0" cy="64.8" r="3.4"/><circle cx="191.3" cy="71.9" r="3.4"/><circle cx="230.8" cy="69.4" r="3.4"/><circle cx="207.2" cy="71.7" r="3.4"/><circle cx="185.2" cy="68.9" r="3.4"/><circle cx="202.6" cy="74.7" r="3.4"/><circle cx="201.0" cy="67.2" r="3.4"/><circle cx="214.8" cy="76.2" r="3.4"/><circle cx="201.9" cy="73.1" r="3.4"/><circle cx="214.9" cy="73.9" r="3.4"/><circle cx="185.2" cy="72.5" r="3.4"/><circle cx="214.1" cy="66.8" r="3.4"/><circle cx="197.0" cy="71.7" r="3.4"/><circle cx="184.6" cy="73.8" r="3.4"/><circle cx="188.7" cy="69.3" r="3.4"/><circle cx="186.6" cy="73.7" r="3.4"/><circle cx="221.0" cy="69.5" r="3.4"/><circle cx="182.6" cy="66.7" r="3.4"/><circle cx="230.4" cy="71.5" r="3.4"/><circle cx="201.9" cy="67.0" r="3.4"/><circle cx="180.2" cy="73.0" r="3.4"/><circle cx="218.7" cy="64.7" r="3.4"/><circle cx="181.5" cy="75.7" r="3.4"/><circle cx="219.1" cy="68.3" r="3.4"/><circle cx="229.0" cy="65.2" r="3.4"/><circle cx="200.6" cy="66.8" r="3.4"/><circle cx="197.7" cy="75.8" r="3.4"/><circle cx="195.1" cy="66.9" r="3.4"/><circle cx="217.4" cy="76.3" r="3.4"/><circle cx="225.4" cy="73.7" r="3.4"/><circle cx="196.5" cy="65.0" r="3.4"/><circle cx="205.2" cy="67.3" r="3.4"/><circle cx="232.8" cy="66.6" r="3.4"/><circle cx="192.8" cy="67.0" r="3.4"/><circle cx="191.7" cy="74.8" r="3.4"/><circle cx="205.5" cy="72.2" r="3.4"/><circle cx="186.7" cy="65.6" r="3.4"/><circle cx="214.4" cy="70.2" r="3.4"/><circle cx="205.0" cy="73.8" r="3.4"/><circle cx="193.5" cy="64.1" r="3.4"/><circle cx="195.7" cy="67.4" r="3.4"/><circle cx="182.6" cy="65.0" r="3.4"/><circle cx="233.3" cy="73.4" r="3.4"/><circle cx="220.2" cy="67.4" r="3.4"/><circle cx="187.2" cy="73.8" r="3.4"/><circle cx="209.6" cy="67.2" r="3.4"/><circle cx="226.5" cy="69.2" r="3.4"/><circle cx="182.4" cy="69.4" r="3.4"/><circle cx="209.3" cy="67.8" r="3.4"/><circle cx="224.7" cy="71.6" r="3.4"/><circle cx="212.3" cy="67.5" r="3.4"/><circle cx="212.1" cy="67.2" r="3.4"/><circle cx="220.4" cy="73.4" r="3.4"/><circle cx="198.4" cy="67.5" r="3.4"/><circle cx="210.0" cy="74.1" r="3.4"/><circle cx="199.4" cy="71.6" r="3.4"/><circle cx="184.7" cy="67.3" r="3.4"/><circle cx="212.7" cy="73.5" r="3.4"/><circle cx="217.3" cy="67.1" r="3.4"/><circle cx="203.5" cy="67.9" r="3.4"/><circle cx="201.0" cy="72.5" r="3.4"/><circle cx="223.7" cy="65.4" r="3.4"/><circle cx="218.4" cy="73.9" r="3.4"/><circle cx="184.6" cy="71.9" r="3.4"/><circle cx="195.0" cy="75.8" r="3.4"/><circle cx="212.3" cy="73.9" r="3.4"/><circle cx="179.4" cy="66.0" r="3.4"/><circle cx="230.4" cy="66.0" r="3.4"/><circle cx="188.2" cy="74.0" r="3.4"/><circle cx="192.7" cy="64.0" r="3.4"/><circle cx="227.4" cy="76.3" r="3.4"/><circle cx="222.3" cy="79.9" r="3.4"/><circle cx="191.9" cy="79.7" r="3.4"/><circle cx="206.6" cy="80.1" r="3.4"/><circle cx="200.2" cy="80.3" r="3.4"/><circle cx="177.3" cy="83.2" r="3.4"/><circle cx="218.0" cy="79.7" r="3.4"/><circle cx="234.2" cy="80.2" r="3.4"/><circle cx="206.6" cy="79.8" r="3.4"/><circle cx="193.9" cy="79.9" r="3.4"/><circle cx="186.9" cy="79.6" r="3.4"/><circle cx="223.8" cy="80.1" r="3.4"/><circle cx="178.3" cy="79.6" r="3.4"/><circle cx="213.0" cy="80.1" r="3.4"/><circle cx="209.3" cy="80.3" r="3.4"/><circle cx="201.5" cy="79.8" r="3.4"/><circle cx="204.0" cy="80.2" r="3.4"/><circle cx="183.7" cy="79.9" r="3.4"/><circle cx="205.4" cy="80.3" r="3.4"/><circle cx="249.5" cy="66.7" r="3.4"/><circle cx="238.5" cy="66.5" r="3.4"/><circle cx="249.2" cy="71.8" r="3.4"/><circle cx="258.6" cy="69.1" r="3.4"/><circle cx="247.4" cy="66.3" r="3.4"/><circle cx="253.4" cy="66.9" r="3.4"/><circle cx="242.2" cy="69.9" r="3.4"/><circle cx="256.1" cy="67.1" r="3.4"/><circle cx="239.5" cy="69.4" r="3.4"/><circle cx="245.5" cy="66.8" r="3.4"/><circle cx="244.8" cy="68.3" r="3.4"/><circle cx="254.9" cy="66.6" r="3.4"/><circle cx="228.6" cy="61.6" r="3.4"/><circle cx="203.9" cy="61.1" r="3.4"/><circle cx="198.3" cy="60.8" r="3.4"/><circle cx="235.1" cy="61.7" r="3.4"/><circle cx="194.4" cy="61.1" r="3.4"/><circle cx="221.4" cy="60.8" r="3.4"/><circle cx="226.5" cy="61.2" r="3.4"/><circle cx="223.6" cy="61.4" r="3.4"/><circle cx="198.4" cy="61.3" r="3.4"/><circle cx="210.4" cy="61.2" r="3.4"/><circle cx="212.0" cy="60.8" r="3.4"/><circle cx="217.0" cy="61.5" r="3.4"/><circle cx="192.0" cy="61.5" r="3.4"/><circle cx="206.4" cy="61.2" r="3.4"/><circle cx="205.3" cy="61.2" r="3.4"/><circle cx="200.9" cy="60.9" r="3.4"/><circle cx="227.8" cy="60.9" r="3.4"/><circle cx="221.9" cy="61.0" r="3.4"/><circle cx="255.3" cy="41.0" r="3.4"/><circle cx="256.5" cy="42.7" r="3.4"/><circle cx="234.2" cy="41.3" r="3.4"/><circle cx="249.3" cy="41.2" r="3.4"/><circle cx="247.9" cy="40.7" r="3.4"/><circle cx="234.1" cy="40.7" r="3.4"/><circle cx="225.5" cy="40.9" r="3.4"/><circle cx="249.2" cy="44.2" r="3.4"/><circle cx="252.9" cy="41.9" r="3.4"/><circle cx="228.4" cy="41.7" r="3.4"/><circle cx="257.3" cy="44.5" r="3.4"/><circle cx="255.2" cy="44.3" r="3.4"/><circle cx="243.1" cy="44.8" r="3.4"/><circle cx="237.5" cy="44.2" r="3.4"/><circle cx="231.1" cy="44.8" r="3.4"/><circle cx="241.4" cy="44.3" r="3.4"/><circle cx="226.6" cy="41.4" r="3.4"/><circle cx="244.0" cy="40.9" r="3.4"/><circle cx="253.0" cy="44.4" r="3.4"/><circle cx="239.5" cy="44.3" r="3.4"/><circle cx="224.7" cy="44.0" r="3.4"/><circle cx="248.0" cy="44.9" r="3.4"/><circle cx="237.3" cy="40.8" r="3.4"/><circle cx="231.8" cy="41.9" r="3.4"/><circle cx="234.8" cy="44.5" r="3.4"/><circle cx="232.5" cy="44.2" r="3.4"/><circle cx="226.3" cy="44.2" r="3.4"/><circle cx="245.2" cy="44.9" r="3.4"/><circle cx="240.0" cy="41.3" r="3.4"/><circle cx="229.7" cy="44.0" r="3.4"/><circle cx="245.8" cy="40.8" r="3.4"/><circle cx="241.7" cy="40.9" r="3.4"/><circle cx="240.5" cy="51.0" r="3.4"/><circle cx="242.7" cy="51.7" r="3.4"/><circle cx="245.1" cy="50.8" r="3.4"/><circle cx="241.9" cy="51.3" r="3.4"/><circle cx="231.3" cy="51.4" r="3.4"/><circle cx="227.2" cy="51.0" r="3.4"/><circle cx="224.8" cy="50.8" r="3.4"/><circle cx="237.0" cy="50.8" r="3.4"/><circle cx="220.5" cy="51.6" r="3.4"/><circle cx="228.4" cy="51.6" r="3.4"/><circle cx="219.3" cy="50.6" r="3.4"/><circle cx="230.9" cy="51.7" r="3.4"/><circle cx="222.7" cy="51.8" r="3.4"/><circle cx="237.7" cy="51.9" r="3.4"/><circle cx="225.2" cy="50.7" r="3.4"/><circle cx="235.6" cy="50.7" r="3.4"/><circle cx="53.0" cy="217.5" r="3.4"/><circle cx="53.0" cy="158.0" r="3.4"/><circle cx="53.0" cy="160.5" r="3.4"/><circle cx="69.0" cy="160.4" r="3.4"/><circle cx="86.0" cy="149.0" r="3.4"/><circle cx="95.0" cy="149.0" r="3.4"/><circle cx="182.0" cy="150.0" r="3.4"/><circle cx="190.0" cy="156.0" r="3.4"/><circle cx="182.0" cy="161.0" r="3.4"/><circle cx="174.0" cy="149.0" r="3.4"/><circle cx="172.0" cy="157.0" r="3.4"/><circle cx="195.0" cy="111.0" r="3.4"/><circle cx="209.0" cy="111.0" r="3.4"/><circle cx="215.0" cy="114.5" r="3.4"/><circle cx="217.0" cy="127.0" r="3.4"/><circle cx="191.0" cy="127.0" r="3.4"/><circle cx="195.0" cy="127.0" r="3.4"/><circle cx="214.0" cy="114.0" r="3.4"/><circle cx="198.0" cy="136.0" r="3.4"/><circle cx="193.0" cy="139.0" r="3.4"/><circle cx="144.7" cy="111.6" r="3.4"/><circle cx="151.3" cy="110.5" r="3.4"/><circle cx="122.9" cy="114.9" r="3.4"/><circle cx="123.4" cy="114.9" r="3.4"/><circle cx="133.8" cy="114.9" r="3.4"/><circle cx="138.2" cy="114.9" r="3.4"/><circle cx="129.4" cy="121.4" r="3.4"/><circle cx="134.9" cy="120.9" r="3.4"/><circle cx="116.4" cy="127.4" r="3.4"/><circle cx="119.6" cy="127.4" r="3.4"/><circle cx="122.9" cy="127.4" r="3.4"/><circle cx="132.7" cy="127.4" r="3.4"/><circle cx="127.0" cy="128.0" r="3.4"/><circle cx="129.4" cy="102.9" r="3.4"/><circle cx="142.0" cy="102.4" r="3.4"/><circle cx="143.0" cy="103.0" r="3.4"/><circle cx="150.7" cy="102.9" r="3.4"/><circle cx="156.7" cy="102.4" r="3.4"/><circle cx="201.0" cy="103.0" r="3.4"/><circle cx="207.0" cy="103.0" r="3.4"/><circle cx="214.0" cy="103.0" r="3.4"/><circle cx="225.0" cy="103.0" r="3.4"/><circle cx="152.3" cy="94.2" r="3.4"/><circle cx="155.6" cy="94.2" r="3.4"/><circle cx="157.8" cy="90.9" r="3.4"/><circle cx="146.9" cy="92.0" r="3.4"/><circle cx="136.0" cy="90.9" r="3.4"/><circle cx="235.0" cy="91.5" r="3.4"/><circle cx="246.0" cy="91.5" r="3.4"/><circle cx="259.0" cy="91.5" r="3.4"/><circle cx="237.0" cy="93.0" r="3.4"/><circle cx="169.4" cy="63.6" r="3.4"/><circle cx="166.8" cy="67.2" r="3.4"/><circle cx="169.0" cy="68.0" r="3.4"/><circle cx="156.2" cy="73.6" r="3.4"/><circle cx="161.5" cy="73.6" r="3.4"/><circle cx="166.8" cy="73.6" r="3.4"/><circle cx="172.0" cy="73.6" r="3.4"/><circle cx="159.0" cy="75.0" r="3.4"/><circle cx="155.1" cy="81.6" r="3.4"/><circle cx="191.6" cy="61.4" r="3.4"/><circle cx="240.0" cy="61.6" r="3.4"/><circle cx="246.5" cy="61.2" r="3.4"/><circle cx="259.0" cy="69.0" r="3.4"/></g><rect x="47.00" y="24.20" width="213.30" height="213.10" fill="none" stroke="#6e6e6e" stroke-width="1"/><path d="M53.01 237.30v-2.1M53.01 24.20v2.1M47.00 231.29h2.1M260.30 231.29h-2.1" stroke="#6e6e6e" stroke-width="0.8" fill="none"/><text transform="translate(51.31,253.30) scale(1.08,1)" text-anchor="middle" font-size="10.6" fill="#262626"><tspan>−</tspan><tspan dx="1.0">1</tspan></text><text transform="translate(42.20,235.69) scale(1.08,1)" text-anchor="end" font-size="10.6" fill="#262626"><tspan>−</tspan><tspan dx="0.6">1</tspan></text><path d="M104.83 237.30v-2.1M104.83 24.20v2.1M47.00 179.52h2.1M260.30 179.52h-2.1" stroke="#6e6e6e" stroke-width="0.8" fill="none"/><text transform="translate(103.13,253.30) scale(1.08,1)" text-anchor="middle" font-size="10.6" fill="#262626"><tspan>−</tspan><tspan dx="1.0">0.5</tspan></text><text transform="translate(42.20,183.92) scale(1.08,1)" text-anchor="end" font-size="10.6" fill="#262626"><tspan>−</tspan><tspan dx="0.6">0.5</tspan></text><path d="M156.66 237.30v-2.1M156.66 24.20v2.1M47.00 127.75h2.1M260.30 127.75h-2.1" stroke="#6e6e6e" stroke-width="0.8" fill="none"/><text transform="translate(156.66,253.30) scale(1.08,1)" text-anchor="middle" font-size="10.6" fill="#262626">0</text><text transform="translate(42.20,132.15) scale(1.08,1)" text-anchor="end" font-size="10.6" fill="#262626">0</text><path d="M208.48 237.30v-2.1M208.48 24.20v2.1M47.00 75.97h2.1M260.30 75.97h-2.1" stroke="#6e6e6e" stroke-width="0.8" fill="none"/><text transform="translate(208.48,253.30) scale(1.08,1)" text-anchor="middle" font-size="10.6" fill="#262626">0.5</text><text transform="translate(42.20,80.37) scale(1.08,1)" text-anchor="end" font-size="10.6" fill="#262626">0.5</text><path d="M260.30 237.30v-2.1M260.30 24.20v2.1M47.00 24.20h2.1M260.30 24.20h-2.1" stroke="#6e6e6e" stroke-width="0.8" fill="none"/><text transform="translate(260.30,253.30) scale(1.08,1)" text-anchor="middle" font-size="10.6" fill="#262626">1</text><text transform="translate(42.20,28.60) scale(1.08,1)" text-anchor="end" font-size="10.6" fill="#262626">1</text><text transform="translate(153.65,16.90) scale(1.07,1)" text-anchor="middle" font-size="13.4" font-weight="bold" fill="#000">Training: R=0.95896</text><text transform="translate(153.65,271.80) scale(1.07,1)" text-anchor="middle" font-size="13.4" font-weight="bold" fill="#000">Target</text><text transform="translate(15.90,131.25) rotate(-90) scale(1.0,1)" text-anchor="middle" font-size="14.5" font-weight="bold" fill="#000">Output ~= 0.92*Target + -0.0066</text><rect x="56.20" y="33.70" width="71.6" height="45.5" fill="#fff" stroke="#6e6e6e" stroke-width="1"/><circle cx="78.00" cy="43.00" r="3.4" fill="none" stroke="#111" stroke-width="0.95"/><line x1="59.90" y1="56.70" x2="96.00" y2="56.70" stroke="#0000ff" stroke-width="2.5"/><line x1="59.90" y1="70.70" x2="96.00" y2="70.70" stroke="#5a5a5a" stroke-width="0.9" stroke-dasharray="1 2.7"/><text transform="translate(99.40,46.00) scale(1.03,1)" font-size="9.9" fill="#111">Data</text><text transform="translate(99.40,60.00) scale(1.03,1)" font-size="9.9" fill="#111">Fit</text><text transform="translate(99.40,74.00) scale(1.03,1)" font-size="9.9" fill="#111">Y = T</text></g>
<g><line x1="327.50" y1="237.50" x2="541.40" y2="23.80" stroke="#5a5a5a" stroke-width="0.9" stroke-dasharray="1 2.7"/><line x1="327.50" y1="228.81" x2="541.40" y2="32.21" stroke="#00ff00" stroke-width="2.5"/><g fill="none" stroke="#111" stroke-width="0.95"><circle cx="413.0" cy="147.2" r="3.4"/><circle cx="407.7" cy="149.0" r="3.4"/><circle cx="418.7" cy="149.8" r="3.4"/><circle cx="406.8" cy="156.5" r="3.4"/><circle cx="417.8" cy="151.7" r="3.4"/><circle cx="406.6" cy="156.5" r="3.4"/><circle cx="415.3" cy="148.4" r="3.4"/><circle cx="419.6" cy="146.5" r="3.4"/><circle cx="419.4" cy="154.5" r="3.4"/><circle cx="406.2" cy="152.5" r="3.4"/><circle cx="410.0" cy="156.8" r="3.4"/><circle cx="413.1" cy="153.2" r="3.4"/><circle cx="410.4" cy="153.9" r="3.4"/><circle cx="406.2" cy="151.2" r="3.4"/><circle cx="416.2" cy="151.0" r="3.4"/><circle cx="415.9" cy="154.2" r="3.4"/><circle cx="410.9" cy="146.4" r="3.4"/><circle cx="410.8" cy="150.7" r="3.4"/><circle cx="412.7" cy="156.4" r="3.4"/><circle cx="408.5" cy="148.0" r="3.4"/><circle cx="405.6" cy="147.3" r="3.4"/><circle cx="416.2" cy="155.5" r="3.4"/><circle cx="518.8" cy="72.3" r="3.4"/><circle cx="475.7" cy="70.0" r="3.4"/><circle cx="510.8" cy="65.9" r="3.4"/><circle cx="491.2" cy="72.5" r="3.4"/><circle cx="482.1" cy="72.3" r="3.4"/><circle cx="518.6" cy="67.2" r="3.4"/><circle cx="500.3" cy="68.0" r="3.4"/><circle cx="491.9" cy="69.1" r="3.4"/><circle cx="512.2" cy="70.3" r="3.4"/><circle cx="494.7" cy="70.5" r="3.4"/><circle cx="477.3" cy="67.7" r="3.4"/><circle cx="472.2" cy="71.7" r="3.4"/><circle cx="479.4" cy="68.1" r="3.4"/><circle cx="505.2" cy="71.3" r="3.4"/><circle cx="494.7" cy="69.8" r="3.4"/><circle cx="489.6" cy="66.5" r="3.4"/><circle cx="474.0" cy="66.3" r="3.4"/><circle cx="484.3" cy="67.4" r="3.4"/><circle cx="505.5" cy="69.2" r="3.4"/><circle cx="514.2" cy="67.6" r="3.4"/><circle cx="516.4" cy="64.8" r="3.4"/><circle cx="472.8" cy="66.6" r="3.4"/><circle cx="507.2" cy="67.0" r="3.4"/><circle cx="505.5" cy="66.4" r="3.4"/><circle cx="513.1" cy="69.7" r="3.4"/><circle cx="479.5" cy="70.7" r="3.4"/><circle cx="483.6" cy="66.0" r="3.4"/><circle cx="480.3" cy="65.1" r="3.4"/><circle cx="507.0" cy="71.5" r="3.4"/><circle cx="471.0" cy="68.7" r="3.4"/><circle cx="462.2" cy="102.6" r="3.4"/><circle cx="456.7" cy="109.9" r="3.4"/><circle cx="456.8" cy="92.2" r="3.4"/><circle cx="456.1" cy="102.3" r="3.4"/><circle cx="465.4" cy="109.5" r="3.4"/><circle cx="459.8" cy="93.9" r="3.4"/><circle cx="464.1" cy="101.9" r="3.4"/><circle cx="466.8" cy="96.9" r="3.4"/><circle cx="467.4" cy="105.4" r="3.4"/><circle cx="462.0" cy="97.8" r="3.4"/><circle cx="461.9" cy="109.0" r="3.4"/><circle cx="458.6" cy="99.8" r="3.4"/><circle cx="484.2" cy="85.9" r="3.4"/><circle cx="472.3" cy="86.2" r="3.4"/><circle cx="483.0" cy="87.9" r="3.4"/><circle cx="475.9" cy="78.6" r="3.4"/><circle cx="489.2" cy="78.1" r="3.4"/><circle cx="492.0" cy="82.6" r="3.4"/><circle cx="495.2" cy="89.7" r="3.4"/><circle cx="475.7" cy="84.4" r="3.4"/><circle cx="491.9" cy="83.9" r="3.4"/><circle cx="483.0" cy="82.1" r="3.4"/><circle cx="475.8" cy="90.3" r="3.4"/><circle cx="470.7" cy="78.7" r="3.4"/><circle cx="488.3" cy="91.1" r="3.4"/><circle cx="471.4" cy="90.2" r="3.4"/><circle cx="393.2" cy="149.6" r="3.4"/><circle cx="390.0" cy="147.2" r="3.4"/><circle cx="399.2" cy="156.1" r="3.4"/><circle cx="394.5" cy="146.8" r="3.4"/><circle cx="399.5" cy="149.4" r="3.4"/><circle cx="388.8" cy="157.0" r="3.4"/><circle cx="395.9" cy="148.5" r="3.4"/><circle cx="394.9" cy="155.6" r="3.4"/><circle cx="333.7" cy="225.5" r="3.4"/><circle cx="333.7" cy="228.0" r="3.4"/><circle cx="333.7" cy="230.6" r="3.4"/><circle cx="333.7" cy="233.2" r="3.4"/><circle cx="333.7" cy="235.8" r="3.4"/><circle cx="333.7" cy="217.1" r="3.4"/><circle cx="339.5" cy="208.1" r="3.4"/><circle cx="340.2" cy="212.6" r="3.4"/><circle cx="346.0" cy="208.8" r="3.4"/><circle cx="349.2" cy="201.0" r="3.4"/><circle cx="347.9" cy="201.0" r="3.4"/><circle cx="355.0" cy="201.0" r="3.4"/><circle cx="356.9" cy="201.0" r="3.4"/><circle cx="353.0" cy="201.5" r="3.4"/><circle cx="351.1" cy="214.5" r="3.4"/><circle cx="353.7" cy="215.8" r="3.4"/><circle cx="356.9" cy="213.3" r="3.4"/><circle cx="358.8" cy="212.6" r="3.4"/><circle cx="360.7" cy="213.9" r="3.4"/><circle cx="364.6" cy="213.3" r="3.4"/><circle cx="365.9" cy="217.1" r="3.4"/><circle cx="358.2" cy="217.8" r="3.4"/><circle cx="354.3" cy="217.8" r="3.4"/><circle cx="350.5" cy="218.4" r="3.4"/><circle cx="375.5" cy="201.0" r="3.4"/><circle cx="364.0" cy="188.8" r="3.4"/><circle cx="365.3" cy="190.7" r="3.4"/><circle cx="367.2" cy="189.5" r="3.4"/><circle cx="370.4" cy="191.4" r="3.4"/><circle cx="372.3" cy="189.5" r="3.4"/><circle cx="376.2" cy="190.7" r="3.4"/><circle cx="378.1" cy="190.7" r="3.4"/><circle cx="379.4" cy="191.4" r="3.4"/><circle cx="382.6" cy="190.7" r="3.4"/><circle cx="385.8" cy="189.5" r="3.4"/><circle cx="387.8" cy="191.4" r="3.4"/><circle cx="383.9" cy="171.4" r="3.4"/><circle cx="394.2" cy="171.4" r="3.4"/><circle cx="395.8" cy="172.1" r="3.4"/><circle cx="398.4" cy="172.1" r="3.4"/><circle cx="410.6" cy="166.3" r="3.4"/><circle cx="406.7" cy="165.0" r="3.4"/><circle cx="429.9" cy="166.3" r="3.4"/><circle cx="442.8" cy="166.3" r="3.4"/><circle cx="354.3" cy="165.0" r="3.4"/><circle cx="371.0" cy="165.6" r="3.4"/><circle cx="373.6" cy="166.3" r="3.4"/><circle cx="353.7" cy="163.2" r="3.4"/><circle cx="362.7" cy="160.0" r="3.4"/><circle cx="369.8" cy="155.5" r="3.4"/><circle cx="370.4" cy="160.6" r="3.4"/><circle cx="372.3" cy="162.6" r="3.4"/><circle cx="374.9" cy="160.6" r="3.4"/><circle cx="369.8" cy="163.2" r="3.4"/><circle cx="382.6" cy="155.5" r="3.4"/><circle cx="384.6" cy="156.8" r="3.4"/><circle cx="386.5" cy="155.5" r="3.4"/><circle cx="383.3" cy="160.0" r="3.4"/><circle cx="385.8" cy="160.6" r="3.4"/><circle cx="389.1" cy="160.0" r="3.4"/><circle cx="390.4" cy="155.5" r="3.4"/><circle cx="391.6" cy="138.8" r="3.4"/><circle cx="396.0" cy="114.3" r="3.4"/><circle cx="396.0" cy="127.8" r="3.4"/><circle cx="394.2" cy="146.5" r="3.4"/><circle cx="392.9" cy="150.3" r="3.4"/><circle cx="428.0" cy="95.6" r="3.4"/><circle cx="431.2" cy="96.3" r="3.4"/><circle cx="426.7" cy="102.7" r="3.4"/><circle cx="442.8" cy="102.7" r="3.4"/><circle cx="445.3" cy="102.7" r="3.4"/><circle cx="449.2" cy="102.7" r="3.4"/><circle cx="454.4" cy="102.7" r="3.4"/><circle cx="456.9" cy="104.0" r="3.4"/><circle cx="395.8" cy="115.0" r="3.4"/><circle cx="443.4" cy="115.0" r="3.4"/><circle cx="446.6" cy="112.4" r="3.4"/><circle cx="449.2" cy="114.3" r="3.4"/><circle cx="451.8" cy="113.0" r="3.4"/><circle cx="455.6" cy="110.4" r="3.4"/><circle cx="458.2" cy="106.6" r="3.4"/><circle cx="411.2" cy="122.0" r="3.4"/><circle cx="420.2" cy="118.8" r="3.4"/><circle cx="422.8" cy="119.5" r="3.4"/><circle cx="424.7" cy="122.0" r="3.4"/><circle cx="420.2" cy="122.7" r="3.4"/><circle cx="429.9" cy="116.2" r="3.4"/><circle cx="433.1" cy="123.3" r="3.4"/><circle cx="396.4" cy="127.8" r="3.4"/><circle cx="404.8" cy="127.8" r="3.4"/><circle cx="421.5" cy="128.5" r="3.4"/><circle cx="427.3" cy="127.8" r="3.4"/><circle cx="437.0" cy="127.2" r="3.4"/><circle cx="439.5" cy="129.1" r="3.4"/><circle cx="442.8" cy="132.3" r="3.4"/><circle cx="446.6" cy="127.8" r="3.4"/><circle cx="451.8" cy="127.2" r="3.4"/><circle cx="454.4" cy="124.0" r="3.4"/><circle cx="459.5" cy="128.5" r="3.4"/><circle cx="392.6" cy="138.8" r="3.4"/><circle cx="412.5" cy="138.8" r="3.4"/><circle cx="417.7" cy="139.4" r="3.4"/><circle cx="411.2" cy="141.3" r="3.4"/><circle cx="429.9" cy="138.8" r="3.4"/><circle cx="434.4" cy="140.7" r="3.4"/><circle cx="436.3" cy="143.9" r="3.4"/><circle cx="438.9" cy="138.8" r="3.4"/><circle cx="446.6" cy="138.8" r="3.4"/><circle cx="450.5" cy="139.4" r="3.4"/><circle cx="454.4" cy="138.8" r="3.4"/><circle cx="458.2" cy="139.4" r="3.4"/><circle cx="453.7" cy="149.0" r="3.4"/><circle cx="426.0" cy="149.0" r="3.4"/><circle cx="432.5" cy="152.9" r="3.4"/><circle cx="435.7" cy="154.2" r="3.4"/><circle cx="437.0" cy="156.8" r="3.4"/><circle cx="428.6" cy="156.8" r="3.4"/><circle cx="424.1" cy="155.5" r="3.4"/><circle cx="428.6" cy="164.5" r="3.4"/><circle cx="442.8" cy="165.1" r="3.4"/><circle cx="392.5" cy="162.0" r="3.4"/><circle cx="401.6" cy="159.3" r="3.4"/><circle cx="406.7" cy="164.5" r="3.4"/><circle cx="396.0" cy="152.0" r="3.4"/><circle cx="400.0" cy="148.0" r="3.4"/><circle cx="437.8" cy="73.5" r="3.4"/><circle cx="439.7" cy="76.8" r="3.4"/><circle cx="452.6" cy="76.1" r="3.4"/><circle cx="453.9" cy="77.4" r="3.4"/><circle cx="461.0" cy="70.3" r="3.4"/><circle cx="462.3" cy="72.3" r="3.4"/><circle cx="462.9" cy="74.2" r="3.4"/><circle cx="474.5" cy="70.3" r="3.4"/><circle cx="427.5" cy="94.1" r="3.4"/><circle cx="431.4" cy="94.1" r="3.4"/><circle cx="448.1" cy="90.9" r="3.4"/><circle cx="454.5" cy="92.9" r="3.4"/><circle cx="458.4" cy="91.6" r="3.4"/><circle cx="461.6" cy="90.3" r="3.4"/><circle cx="465.5" cy="89.6" r="3.4"/><circle cx="469.4" cy="90.3" r="3.4"/><circle cx="473.2" cy="89.6" r="3.4"/><circle cx="474.4" cy="68.7" r="3.4"/><circle cx="477.1" cy="69.8" r="3.4"/><circle cx="479.3" cy="68.2" r="3.4"/><circle cx="482.0" cy="69.8" r="3.4"/><circle cx="484.7" cy="67.6" r="3.4"/><circle cx="488.0" cy="68.7" r="3.4"/><circle cx="491.3" cy="69.3" r="3.4"/><circle cx="494.5" cy="68.2" r="3.4"/><circle cx="497.8" cy="66.5" r="3.4"/><circle cx="476.0" cy="73.1" r="3.4"/><circle cx="479.3" cy="72.0" r="3.4"/><circle cx="472.7" cy="83.4" r="3.4"/><circle cx="476.0" cy="82.4" r="3.4"/><circle cx="478.7" cy="84.0" r="3.4"/><circle cx="482.0" cy="83.4" r="3.4"/><circle cx="485.8" cy="81.8" r="3.4"/><circle cx="489.1" cy="80.2" r="3.4"/><circle cx="492.3" cy="80.7" r="3.4"/><circle cx="495.6" cy="81.8" r="3.4"/><circle cx="498.9" cy="79.6" r="3.4"/><circle cx="448.2" cy="90.5" r="3.4"/><circle cx="454.2" cy="90.5" r="3.4"/><circle cx="457.4" cy="90.5" r="3.4"/><circle cx="460.7" cy="90.0" r="3.4"/><circle cx="464.5" cy="90.5" r="3.4"/><circle cx="467.8" cy="89.5" r="3.4"/><circle cx="471.6" cy="90.0" r="3.4"/><circle cx="475.4" cy="90.5" r="3.4"/><circle cx="479.3" cy="90.0" r="3.4"/><circle cx="483.1" cy="90.5" r="3.4"/><circle cx="486.9" cy="89.5" r="3.4"/><circle cx="490.2" cy="90.0" r="3.4"/><circle cx="494.5" cy="88.5" r="3.4"/><circle cx="497.8" cy="91.6" r="3.4"/><circle cx="458.5" cy="93.8" r="3.4"/><circle cx="442.2" cy="102.5" r="3.4"/><circle cx="445.5" cy="102.5" r="3.4"/><circle cx="453.1" cy="101.4" r="3.4"/><circle cx="460.2" cy="103.0" r="3.4"/><circle cx="463.4" cy="105.8" r="3.4"/><circle cx="476.0" cy="102.0" r="3.4"/><circle cx="484.7" cy="101.4" r="3.4"/><circle cx="456.4" cy="107.0" r="3.4"/><circle cx="461.8" cy="109.0" r="3.4"/><circle cx="466.2" cy="111.2" r="3.4"/><circle cx="443.3" cy="110.2" r="3.4"/><circle cx="444.9" cy="114.5" r="3.4"/><circle cx="449.8" cy="114.5" r="3.4"/><circle cx="455.3" cy="115.6" r="3.4"/><circle cx="458.5" cy="116.7" r="3.4"/><circle cx="461.8" cy="114.5" r="3.4"/><circle cx="467.3" cy="114.5" r="3.4"/><circle cx="472.7" cy="115.6" r="3.4"/><circle cx="478.2" cy="115.6" r="3.4"/><circle cx="506.8" cy="39.7" r="3.4"/><circle cx="507.5" cy="41.7" r="3.4"/><circle cx="506.2" cy="43.8" r="3.4"/><circle cx="504.1" cy="44.5" r="3.4"/><circle cx="518.4" cy="39.7" r="3.4"/><circle cx="520.5" cy="41.0" r="3.4"/><circle cx="522.5" cy="43.1" r="3.4"/><circle cx="524.6" cy="41.0" r="3.4"/><circle cx="525.9" cy="43.1" r="3.4"/><circle cx="517.1" cy="44.5" r="3.4"/><circle cx="532.8" cy="41.7" r="3.4"/><circle cx="540.9" cy="40.4" r="3.4"/><circle cx="497.3" cy="52.0" r="3.4"/><circle cx="504.8" cy="52.0" r="3.4"/><circle cx="509.6" cy="51.3" r="3.4"/><circle cx="512.3" cy="52.6" r="3.4"/><circle cx="515.0" cy="51.3" r="3.4"/><circle cx="518.4" cy="50.6" r="3.4"/><circle cx="523.9" cy="52.0" r="3.4"/><circle cx="520.5" cy="52.0" r="3.4"/><circle cx="510.9" cy="55.4" r="3.4"/><circle cx="506.8" cy="53.4" r="3.4"/><circle cx="530.7" cy="67.7" r="3.4"/><circle cx="538.9" cy="73.1" r="3.4"/><circle cx="535.5" cy="79.3" r="3.4"/><circle cx="522.5" cy="75.8" r="3.4"/><circle cx="496.6" cy="80.6" r="3.4"/><circle cx="501.4" cy="79.9" r="3.4"/><circle cx="513.7" cy="79.9" r="3.4"/><circle cx="517.7" cy="78.6" r="3.4"/><circle cx="500.0" cy="90.8" r="3.4"/><circle cx="505.5" cy="92.2" r="3.4"/><circle cx="510.9" cy="89.5" r="3.4"/><circle cx="516.4" cy="93.6" r="3.4"/><circle cx="512.3" cy="88.1" r="3.4"/><circle cx="493.2" cy="90.8" r="3.4"/><circle cx="486.4" cy="88.1" r="3.4"/><circle cx="531.0" cy="68.5" r="3.4"/><circle cx="539.0" cy="73.0" r="3.4"/><circle cx="536.0" cy="80.0" r="3.4"/><circle cx="522.0" cy="76.5" r="3.4"/><circle cx="513.5" cy="80.5" r="3.4"/><circle cx="500.5" cy="80.5" r="3.4"/><circle cx="521.0" cy="68.0" r="3.4"/><circle cx="517.0" cy="65.0" r="3.4"/><circle cx="514.0" cy="63.0" r="3.4"/><circle cx="510.0" cy="67.0" r="3.4"/><circle cx="513.0" cy="71.0" r="3.4"/><circle cx="516.0" cy="69.0" r="3.4"/><circle cx="519.0" cy="70.0" r="3.4"/><circle cx="512.0" cy="74.0" r="3.4"/><circle cx="515.0" cy="74.0" r="3.4"/><circle cx="502.0" cy="64.0" r="3.4"/><circle cx="505.0" cy="67.0" r="3.4"/><circle cx="507.0" cy="70.0" r="3.4"/><circle cx="501.0" cy="69.0" r="3.4"/><circle cx="497.0" cy="67.0" r="3.4"/><circle cx="494.0" cy="68.0" r="3.4"/><circle cx="491.0" cy="66.0" r="3.4"/><circle cx="494.0" cy="81.0" r="3.4"/><circle cx="492.0" cy="89.0" r="3.4"/><circle cx="499.0" cy="91.0" r="3.4"/><circle cx="499.5" cy="94.0" r="3.4"/><circle cx="506.0" cy="92.0" r="3.4"/><circle cx="511.5" cy="89.0" r="3.4"/><circle cx="513.0" cy="91.0" r="3.4"/><circle cx="517.0" cy="94.5" r="3.4"/><circle cx="511.5" cy="103.0" r="3.4"/><circle cx="475.5" cy="102.3" r="3.4"/><circle cx="485.3" cy="101.5" r="3.4"/><circle cx="511.5" cy="102.3" r="3.4"/><circle cx="500.0" cy="94.1" r="3.4"/><circle cx="505.7" cy="92.5" r="3.4"/><circle cx="511.5" cy="91.6" r="3.4"/><circle cx="517.2" cy="94.1" r="3.4"/><circle cx="462.4" cy="104.7" r="3.4"/><circle cx="461.5" cy="108.0" r="3.4"/><circle cx="478.7" cy="115.4" r="3.4"/><circle cx="470.5" cy="116.2" r="3.4"/><circle cx="466.5" cy="116.2" r="3.4"/><circle cx="461.5" cy="115.4" r="3.4"/><circle cx="459.9" cy="118.6" r="3.4"/><circle cx="463.2" cy="120.3" r="3.4"/><circle cx="459.1" cy="126.8" r="3.4"/><circle cx="465.6" cy="127.6" r="3.4"/><circle cx="459.1" cy="139.1" r="3.4"/><circle cx="467.3" cy="138.3" r="3.4"/><circle cx="455.0" cy="149.0" r="3.4"/></g><rect x="327.50" y="23.80" width="213.90" height="213.70" fill="none" stroke="#6e6e6e" stroke-width="1"/><path d="M333.53 237.50v-2.1M333.53 23.80v2.1M327.50 231.48h2.1M541.40 231.48h-2.1" stroke="#6e6e6e" stroke-width="0.8" fill="none"/><text transform="translate(331.83,253.50) scale(1.08,1)" text-anchor="middle" font-size="10.6" fill="#262626"><tspan>−</tspan><tspan dx="1.0">1</tspan></text><text transform="translate(322.70,235.88) scale(1.08,1)" text-anchor="end" font-size="10.6" fill="#262626"><tspan>−</tspan><tspan dx="0.6">1</tspan></text><path d="M385.50 237.50v-2.1M385.50 23.80v2.1M327.50 179.56h2.1M541.40 179.56h-2.1" stroke="#6e6e6e" stroke-width="0.8" fill="none"/><text transform="translate(383.80,253.50) scale(1.08,1)" text-anchor="middle" font-size="10.6" fill="#262626"><tspan>−</tspan><tspan dx="1.0">0.5</tspan></text><text transform="translate(322.70,183.96) scale(1.08,1)" text-anchor="end" font-size="10.6" fill="#262626"><tspan>−</tspan><tspan dx="0.6">0.5</tspan></text><path d="M437.46 237.50v-2.1M437.46 23.80v2.1M327.50 127.64h2.1M541.40 127.64h-2.1" stroke="#6e6e6e" stroke-width="0.8" fill="none"/><text transform="translate(437.46,253.50) scale(1.08,1)" text-anchor="middle" font-size="10.6" fill="#262626">0</text><text transform="translate(322.70,132.04) scale(1.08,1)" text-anchor="end" font-size="10.6" fill="#262626">0</text><path d="M489.43 237.50v-2.1M489.43 23.80v2.1M327.50 75.72h2.1M541.40 75.72h-2.1" stroke="#6e6e6e" stroke-width="0.8" fill="none"/><text transform="translate(489.43,253.50) scale(1.08,1)" text-anchor="middle" font-size="10.6" fill="#262626">0.5</text><text transform="translate(322.70,80.12) scale(1.08,1)" text-anchor="end" font-size="10.6" fill="#262626">0.5</text><path d="M541.40 237.50v-2.1M541.40 23.80v2.1M327.50 23.80h2.1M541.40 23.80h-2.1" stroke="#6e6e6e" stroke-width="0.8" fill="none"/><text transform="translate(541.40,253.50) scale(1.08,1)" text-anchor="middle" font-size="10.6" fill="#262626">1</text><text transform="translate(322.70,28.20) scale(1.08,1)" text-anchor="end" font-size="10.6" fill="#262626">1</text><text transform="translate(433.25,16.50) scale(1.07,1)" text-anchor="middle" font-size="13.4" font-weight="bold" fill="#000">Validation: R=0.96114</text><text transform="translate(434.45,272.00) scale(1.07,1)" text-anchor="middle" font-size="13.4" font-weight="bold" fill="#000">Target</text><text transform="translate(296.40,132.65) rotate(-90) scale(1.0,1)" text-anchor="middle" font-size="14.5" font-weight="bold" fill="#000">Output ~= 0.92*Target + -0.001</text><rect x="336.70" y="33.30" width="71.6" height="45.5" fill="#fff" stroke="#6e6e6e" stroke-width="1"/><circle cx="358.50" cy="42.60" r="3.4" fill="none" stroke="#111" stroke-width="0.95"/><line x1="340.40" y1="56.30" x2="376.50" y2="56.30" stroke="#00ff00" stroke-width="2.5"/><line x1="340.40" y1="70.30" x2="376.50" y2="70.30" stroke="#5a5a5a" stroke-width="0.9" stroke-dasharray="1 2.7"/><text transform="translate(379.90,45.60) scale(1.03,1)" font-size="9.9" fill="#111">Data</text><text transform="translate(379.90,59.60) scale(1.03,1)" font-size="9.9" fill="#111">Fit</text><text transform="translate(379.90,73.60) scale(1.03,1)" font-size="9.9" fill="#111">Y = T</text></g>
<g><line x1="47.00" y1="539.30" x2="260.30" y2="326.60" stroke="#5a5a5a" stroke-width="0.9" stroke-dasharray="1 2.7"/><line x1="47.00" y1="528.11" x2="260.30" y2="334.56" stroke="#ff0000" stroke-width="2.5"/><g fill="none" stroke="#111" stroke-width="0.95"><circle cx="204.8" cy="387.4" r="3.4"/><circle cx="200.5" cy="382.2" r="3.4"/><circle cx="188.2" cy="382.2" r="3.4"/><circle cx="208.8" cy="391.2" r="3.4"/><circle cx="196.5" cy="389.9" r="3.4"/><circle cx="195.8" cy="384.9" r="3.4"/><circle cx="209.9" cy="387.6" r="3.4"/><circle cx="204.3" cy="392.3" r="3.4"/><circle cx="196.6" cy="384.2" r="3.4"/><circle cx="184.0" cy="387.3" r="3.4"/><circle cx="190.6" cy="393.8" r="3.4"/><circle cx="193.5" cy="385.0" r="3.4"/><circle cx="201.3" cy="391.1" r="3.4"/><circle cx="202.1" cy="387.0" r="3.4"/><circle cx="184.9" cy="382.9" r="3.4"/><circle cx="209.0" cy="383.0" r="3.4"/><circle cx="191.5" cy="383.4" r="3.4"/><circle cx="200.9" cy="393.3" r="3.4"/><circle cx="206.7" cy="384.8" r="3.4"/><circle cx="197.7" cy="386.2" r="3.4"/><circle cx="197.9" cy="391.1" r="3.4"/><circle cx="199.3" cy="382.4" r="3.4"/><circle cx="204.1" cy="393.0" r="3.4"/><circle cx="196.1" cy="388.8" r="3.4"/><circle cx="203.5" cy="388.1" r="3.4"/><circle cx="188.9" cy="385.1" r="3.4"/><circle cx="187.1" cy="394.2" r="3.4"/><circle cx="189.4" cy="387.7" r="3.4"/><circle cx="206.1" cy="384.2" r="3.4"/><circle cx="194.2" cy="392.7" r="3.4"/><circle cx="193.3" cy="388.6" r="3.4"/><circle cx="189.7" cy="394.8" r="3.4"/><circle cx="209.3" cy="392.8" r="3.4"/><circle cx="184.6" cy="386.4" r="3.4"/><circle cx="192.5" cy="392.1" r="3.4"/><circle cx="178.1" cy="409.5" r="3.4"/><circle cx="178.4" cy="405.5" r="3.4"/><circle cx="186.2" cy="411.2" r="3.4"/><circle cx="183.2" cy="405.4" r="3.4"/><circle cx="187.7" cy="406.5" r="3.4"/><circle cx="176.8" cy="411.6" r="3.4"/><circle cx="189.0" cy="408.4" r="3.4"/><circle cx="182.3" cy="410.3" r="3.4"/><circle cx="214.4" cy="363.2" r="3.4"/><circle cx="232.4" cy="372.8" r="3.4"/><circle cx="194.6" cy="367.5" r="3.4"/><circle cx="205.3" cy="372.1" r="3.4"/><circle cx="199.7" cy="363.8" r="3.4"/><circle cx="214.3" cy="369.7" r="3.4"/><circle cx="215.2" cy="364.7" r="3.4"/><circle cx="222.5" cy="368.6" r="3.4"/><circle cx="219.7" cy="363.8" r="3.4"/><circle cx="221.6" cy="360.1" r="3.4"/><circle cx="210.4" cy="369.7" r="3.4"/><circle cx="204.9" cy="369.1" r="3.4"/><circle cx="217.0" cy="370.1" r="3.4"/><circle cx="194.5" cy="366.3" r="3.4"/><circle cx="196.4" cy="364.3" r="3.4"/><circle cx="204.7" cy="364.0" r="3.4"/><circle cx="203.2" cy="361.1" r="3.4"/><circle cx="197.1" cy="366.7" r="3.4"/><circle cx="210.5" cy="365.1" r="3.4"/><circle cx="236.4" cy="362.5" r="3.4"/><circle cx="194.6" cy="370.4" r="3.4"/><circle cx="219.2" cy="366.6" r="3.4"/><circle cx="223.4" cy="371.5" r="3.4"/><circle cx="234.5" cy="371.8" r="3.4"/><circle cx="219.7" cy="372.5" r="3.4"/><circle cx="206.9" cy="360.8" r="3.4"/><circle cx="208.3" cy="370.7" r="3.4"/><circle cx="213.3" cy="365.2" r="3.4"/><circle cx="225.6" cy="363.3" r="3.4"/><circle cx="202.3" cy="369.1" r="3.4"/><circle cx="229.8" cy="366.7" r="3.4"/><circle cx="197.5" cy="371.8" r="3.4"/><circle cx="227.2" cy="366.1" r="3.4"/><circle cx="233.7" cy="367.8" r="3.4"/><circle cx="234.7" cy="365.3" r="3.4"/><circle cx="198.7" cy="361.7" r="3.4"/><circle cx="226.8" cy="371.5" r="3.4"/><circle cx="232.0" cy="365.9" r="3.4"/><circle cx="225.8" cy="368.1" r="3.4"/><circle cx="227.7" cy="360.6" r="3.4"/><circle cx="250.1" cy="363.9" r="3.4"/><circle cx="250.8" cy="367.3" r="3.4"/><circle cx="210.7" cy="365.4" r="3.4"/><circle cx="225.0" cy="362.8" r="3.4"/><circle cx="236.2" cy="365.1" r="3.4"/><circle cx="241.4" cy="365.4" r="3.4"/><circle cx="228.9" cy="366.5" r="3.4"/><circle cx="214.6" cy="366.1" r="3.4"/><circle cx="236.2" cy="367.9" r="3.4"/><circle cx="241.5" cy="368.2" r="3.4"/><circle cx="133.9" cy="460.8" r="3.4"/><circle cx="130.0" cy="452.3" r="3.4"/><circle cx="130.9" cy="462.6" r="3.4"/><circle cx="128.0" cy="455.5" r="3.4"/><circle cx="127.2" cy="463.2" r="3.4"/><circle cx="134.6" cy="451.1" r="3.4"/><circle cx="126.6" cy="458.8" r="3.4"/><circle cx="131.6" cy="456.3" r="3.4"/><circle cx="127.2" cy="450.5" r="3.4"/><circle cx="125.7" cy="454.5" r="3.4"/><circle cx="157.3" cy="435.1" r="3.4"/><circle cx="151.4" cy="439.7" r="3.4"/><circle cx="158.5" cy="433.3" r="3.4"/><circle cx="159.7" cy="437.2" r="3.4"/><circle cx="162.8" cy="439.1" r="3.4"/><circle cx="154.6" cy="438.5" r="3.4"/><circle cx="151.4" cy="432.5" r="3.4"/><circle cx="165.0" cy="435.8" r="3.4"/><circle cx="152.9" cy="437.0" r="3.4"/><circle cx="154.5" cy="434.5" r="3.4"/><circle cx="52.8" cy="525.7" r="3.4"/><circle cx="52.8" cy="528.4" r="3.4"/><circle cx="52.8" cy="531.8" r="3.4"/><circle cx="52.8" cy="535.3" r="3.4"/><circle cx="52.8" cy="538.0" r="3.4"/><circle cx="52.1" cy="518.2" r="3.4"/><circle cx="52.6" cy="517.6" r="3.4"/><circle cx="56.2" cy="519.6" r="3.4"/><circle cx="65.1" cy="505.2" r="3.4"/><circle cx="67.8" cy="506.6" r="3.4"/><circle cx="72.6" cy="510.0" r="3.4"/><circle cx="77.4" cy="510.0" r="3.4"/><circle cx="82.8" cy="510.0" r="3.4"/><circle cx="72.6" cy="514.8" r="3.4"/><circle cx="73.3" cy="516.2" r="3.4"/><circle cx="71.2" cy="518.2" r="3.4"/><circle cx="74.6" cy="518.9" r="3.4"/><circle cx="82.8" cy="519.6" r="3.4"/><circle cx="91.0" cy="505.2" r="3.4"/><circle cx="92.4" cy="503.9" r="3.4"/><circle cx="82.8" cy="492.3" r="3.4"/><circle cx="85.6" cy="490.2" r="3.4"/><circle cx="88.3" cy="491.6" r="3.4"/><circle cx="92.4" cy="490.2" r="3.4"/><circle cx="94.4" cy="491.6" r="3.4"/><circle cx="97.8" cy="490.2" r="3.4"/><circle cx="99.9" cy="492.3" r="3.4"/><circle cx="101.9" cy="493.6" r="3.4"/><circle cx="104.7" cy="493.0" r="3.4"/><circle cx="106.7" cy="492.3" r="3.4"/><circle cx="108.8" cy="491.6" r="3.4"/><circle cx="110.1" cy="492.3" r="3.4"/><circle cx="103.0" cy="491.0" r="3.4"/><circle cx="107.0" cy="493.5" r="3.4"/><circle cx="85.6" cy="465.0" r="3.4"/><circle cx="88.3" cy="465.7" r="3.4"/><circle cx="100.6" cy="466.4" r="3.4"/><circle cx="104.7" cy="466.4" r="3.4"/><circle cx="107.4" cy="465.0" r="3.4"/><circle cx="111.5" cy="465.0" r="3.4"/><circle cx="104.7" cy="473.2" r="3.4"/><circle cx="108.8" cy="473.2" r="3.4"/><circle cx="115.6" cy="473.2" r="3.4"/><circle cx="118.3" cy="473.2" r="3.4"/><circle cx="58.3" cy="458.4" r="3.4"/><circle cx="84.9" cy="461.2" r="3.4"/><circle cx="86.2" cy="462.5" r="3.4"/><circle cx="85.6" cy="459.8" r="3.4"/><circle cx="89.7" cy="464.6" r="3.4"/><circle cx="93.1" cy="459.8" r="3.4"/><circle cx="97.8" cy="459.1" r="3.4"/><circle cx="97.8" cy="446.2" r="3.4"/><circle cx="99.2" cy="447.5" r="3.4"/><circle cx="100.6" cy="449.6" r="3.4"/><circle cx="104.7" cy="451.0" r="3.4"/><circle cx="101.3" cy="464.6" r="3.4"/><circle cx="103.3" cy="467.3" r="3.4"/><circle cx="108.1" cy="456.4" r="3.4"/><circle cx="110.1" cy="459.1" r="3.4"/><circle cx="114.2" cy="448.9" r="3.4"/><circle cx="116.9" cy="451.0" r="3.4"/><circle cx="112.8" cy="453.7" r="3.4"/><circle cx="115.6" cy="457.1" r="3.4"/><circle cx="119.7" cy="446.8" r="3.4"/><circle cx="97.7" cy="445.9" r="3.4"/><circle cx="99.1" cy="446.8" r="3.4"/><circle cx="98.2" cy="448.6" r="3.4"/><circle cx="103.2" cy="449.5" r="3.4"/><circle cx="105.0" cy="448.6" r="3.4"/><circle cx="96.8" cy="450.0" r="3.4"/><circle cx="85.9" cy="460.5" r="3.4"/><circle cx="87.7" cy="461.4" r="3.4"/><circle cx="88.6" cy="463.2" r="3.4"/><circle cx="93.2" cy="459.5" r="3.4"/><circle cx="97.7" cy="459.5" r="3.4"/><circle cx="102.3" cy="465.0" r="3.4"/><circle cx="104.1" cy="462.3" r="3.4"/><circle cx="106.8" cy="459.5" r="3.4"/><circle cx="108.6" cy="457.7" r="3.4"/><circle cx="111.4" cy="455.9" r="3.4"/><circle cx="115.0" cy="448.6" r="3.4"/><circle cx="117.7" cy="450.5" r="3.4"/><circle cx="123.2" cy="445.0" r="3.4"/><circle cx="125.0" cy="446.8" r="3.4"/><circle cx="127.7" cy="448.6" r="3.4"/><circle cx="130.5" cy="449.5" r="3.4"/><circle cx="114.1" cy="455.9" r="3.4"/><circle cx="116.8" cy="454.1" r="3.4"/><circle cx="119.5" cy="453.2" r="3.4"/><circle cx="122.3" cy="455.9" r="3.4"/><circle cx="115.0" cy="459.5" r="3.4"/><circle cx="117.7" cy="458.6" r="3.4"/><circle cx="112.3" cy="461.4" r="3.4"/><circle cx="105.0" cy="472.3" r="3.4"/><circle cx="115.9" cy="473.2" r="3.4"/><circle cx="119.5" cy="473.2" r="3.4"/><circle cx="122.3" cy="473.2" r="3.4"/><circle cx="127.7" cy="465.9" r="3.4"/><circle cx="134.1" cy="440.5" r="3.4"/><circle cx="133.2" cy="445.0" r="3.4"/><circle cx="124.9" cy="428.2" r="3.4"/><circle cx="134.4" cy="422.0" r="3.4"/><circle cx="133.1" cy="424.1" r="3.4"/><circle cx="141.9" cy="422.7" r="3.4"/><circle cx="146.0" cy="421.4" r="3.4"/><circle cx="150.1" cy="422.0" r="3.4"/><circle cx="154.2" cy="420.7" r="3.4"/><circle cx="156.9" cy="422.0" r="3.4"/><circle cx="140.6" cy="428.9" r="3.4"/><circle cx="143.3" cy="429.5" r="3.4"/><circle cx="148.7" cy="428.9" r="3.4"/><circle cx="152.8" cy="428.2" r="3.4"/><circle cx="156.9" cy="430.9" r="3.4"/><circle cx="162.4" cy="428.2" r="3.4"/><circle cx="169.2" cy="422.7" r="3.4"/><circle cx="173.3" cy="420.7" r="3.4"/><circle cx="178.8" cy="420.0" r="3.4"/><circle cx="182.8" cy="421.4" r="3.4"/><circle cx="182.8" cy="428.9" r="3.4"/><circle cx="135.1" cy="439.8" r="3.4"/><circle cx="140.6" cy="439.8" r="3.4"/><circle cx="143.3" cy="440.5" r="3.4"/><circle cx="146.0" cy="439.8" r="3.4"/><circle cx="148.7" cy="440.5" r="3.4"/><circle cx="154.2" cy="437.7" r="3.4"/><circle cx="159.7" cy="437.7" r="3.4"/><circle cx="162.4" cy="439.8" r="3.4"/><circle cx="165.1" cy="439.8" r="3.4"/><circle cx="161.0" cy="436.4" r="3.4"/><circle cx="118.7" cy="450.0" r="3.4"/><circle cx="122.8" cy="447.3" r="3.4"/><circle cx="125.5" cy="449.3" r="3.4"/><circle cx="129.0" cy="448.6" r="3.4"/><circle cx="120.1" cy="455.5" r="3.4"/><circle cx="124.2" cy="454.1" r="3.4"/><circle cx="131.0" cy="452.7" r="3.4"/><circle cx="133.7" cy="455.5" r="3.4"/><circle cx="136.5" cy="454.1" r="3.4"/><circle cx="139.2" cy="452.7" r="3.4"/><circle cx="141.9" cy="455.5" r="3.4"/><circle cx="143.3" cy="449.3" r="3.4"/><circle cx="147.4" cy="448.6" r="3.4"/><circle cx="150.1" cy="452.7" r="3.4"/><circle cx="146.0" cy="456.2" r="3.4"/><circle cx="148.7" cy="458.2" r="3.4"/><circle cx="133.7" cy="459.6" r="3.4"/><circle cx="137.8" cy="458.2" r="3.4"/><circle cx="154.2" cy="456.8" r="3.4"/><circle cx="159.7" cy="456.2" r="3.4"/><circle cx="159.7" cy="460.2" r="3.4"/><circle cx="156.9" cy="460.9" r="3.4"/><circle cx="126.9" cy="465.7" r="3.4"/><circle cx="151.5" cy="467.1" r="3.4"/><circle cx="120.1" cy="473.9" r="3.4"/><circle cx="122.1" cy="474.6" r="3.4"/><circle cx="117.4" cy="473.2" r="3.4"/><circle cx="144.6" cy="380.7" r="3.4"/><circle cx="144.9" cy="381.1" r="3.4"/><circle cx="166.5" cy="370.5" r="3.4"/><circle cx="176.0" cy="369.8" r="3.4"/><circle cx="178.1" cy="372.5" r="3.4"/><circle cx="180.1" cy="375.2" r="3.4"/><circle cx="171.9" cy="375.2" r="3.4"/><circle cx="169.9" cy="378.0" r="3.4"/><circle cx="174.7" cy="381.4" r="3.4"/><circle cx="176.0" cy="377.3" r="3.4"/><circle cx="161.7" cy="380.7" r="3.4"/><circle cx="163.1" cy="382.1" r="3.4"/><circle cx="160.3" cy="382.7" r="3.4"/><circle cx="184.2" cy="363.6" r="3.4"/><circle cx="186.9" cy="369.1" r="3.4"/><circle cx="188.3" cy="377.3" r="3.4"/><circle cx="158.3" cy="390.2" r="3.4"/><circle cx="159.7" cy="395.0" r="3.4"/><circle cx="168.5" cy="391.6" r="3.4"/><circle cx="177.4" cy="391.6" r="3.4"/><circle cx="155.6" cy="402.5" r="3.4"/><circle cx="156.9" cy="402.5" r="3.4"/><circle cx="170.6" cy="403.2" r="3.4"/><circle cx="133.7" cy="415.5" r="3.4"/><circle cx="132.4" cy="418.2" r="3.4"/><circle cx="135.1" cy="419.6" r="3.4"/><circle cx="152.8" cy="415.5" r="3.4"/><circle cx="155.6" cy="416.8" r="3.4"/><circle cx="158.3" cy="414.1" r="3.4"/><circle cx="161.0" cy="412.8" r="3.4"/><circle cx="163.7" cy="414.1" r="3.4"/><circle cx="167.8" cy="414.1" r="3.4"/><circle cx="143.3" cy="421.6" r="3.4"/><circle cx="148.7" cy="421.0" r="3.4"/><circle cx="173.3" cy="415.5" r="3.4"/><circle cx="176.0" cy="418.2" r="3.4"/><circle cx="180.1" cy="416.8" r="3.4"/><circle cx="182.8" cy="419.6" r="3.4"/><circle cx="186.9" cy="418.2" r="3.4"/><circle cx="226.0" cy="343.8" r="3.4"/><circle cx="228.1" cy="342.4" r="3.4"/><circle cx="230.2" cy="341.7" r="3.4"/><circle cx="231.6" cy="343.8" r="3.4"/><circle cx="229.5" cy="345.2" r="3.4"/><circle cx="240.6" cy="342.4" r="3.4"/><circle cx="244.0" cy="343.8" r="3.4"/><circle cx="246.8" cy="343.8" r="3.4"/><circle cx="250.9" cy="343.1" r="3.4"/><circle cx="253.7" cy="345.2" r="3.4"/><circle cx="256.4" cy="343.1" r="3.4"/><circle cx="257.8" cy="341.7" r="3.4"/><circle cx="220.5" cy="352.8" r="3.4"/><circle cx="234.3" cy="352.1" r="3.4"/><circle cx="235.0" cy="353.5" r="3.4"/><circle cx="241.2" cy="352.8" r="3.4"/><circle cx="247.5" cy="353.5" r="3.4"/><circle cx="190.0" cy="369.5" r="3.4"/><circle cx="194.3" cy="369.0" r="3.4"/><circle cx="199.1" cy="369.3" r="3.4"/><circle cx="204.0" cy="370.7" r="3.4"/><circle cx="208.8" cy="371.4" r="3.4"/><circle cx="213.6" cy="370.0" r="3.4"/><circle cx="219.2" cy="371.4" r="3.4"/><circle cx="224.7" cy="370.0" r="3.4"/><circle cx="227.4" cy="369.3" r="3.4"/><circle cx="231.6" cy="370.7" r="3.4"/><circle cx="235.7" cy="370.0" r="3.4"/><circle cx="240.6" cy="369.3" r="3.4"/><circle cx="242.6" cy="370.0" r="3.4"/><circle cx="245.4" cy="369.3" r="3.4"/><circle cx="248.8" cy="370.0" r="3.4"/><circle cx="253.7" cy="370.0" r="3.4"/><circle cx="255.1" cy="372.8" r="3.4"/><circle cx="256.4" cy="375.6" r="3.4"/><circle cx="257.8" cy="378.3" r="3.4"/><circle cx="239.2" cy="377.0" r="3.4"/><circle cx="242.6" cy="377.7" r="3.4"/><circle cx="220.5" cy="379.0" r="3.4"/><circle cx="223.3" cy="381.1" r="3.4"/><circle cx="188.8" cy="377.0" r="3.4"/><circle cx="194.3" cy="375.6" r="3.4"/><circle cx="224.0" cy="390.8" r="3.4"/><circle cx="224.3" cy="391.0" r="3.4"/><circle cx="231.6" cy="389.4" r="3.4"/><circle cx="233.0" cy="394.2" r="3.4"/><circle cx="212.2" cy="394.9" r="3.4"/><circle cx="202.6" cy="401.8" r="3.4"/><circle cx="219.8" cy="402.5" r="3.4"/><circle cx="188.8" cy="401.8" r="3.4"/><circle cx="202.6" cy="403.3" r="3.4"/><circle cx="219.8" cy="404.0" r="3.4"/><circle cx="211.6" cy="395.7" r="3.4"/><circle cx="233.0" cy="395.7" r="3.4"/><circle cx="189.5" cy="403.3" r="3.4"/><circle cx="188.8" cy="413.0" r="3.4"/><circle cx="199.8" cy="413.0" r="3.4"/><circle cx="205.3" cy="412.3" r="3.4"/><circle cx="199.1" cy="415.7" r="3.4"/><circle cx="195.0" cy="422.6" r="3.4"/><circle cx="198.4" cy="423.3" r="3.4"/><circle cx="162.0" cy="381.6" r="3.4"/><circle cx="174.0" cy="381.6" r="3.4"/><circle cx="171.8" cy="380.0" r="3.4"/><circle cx="158.7" cy="390.4" r="3.4"/><circle cx="159.3" cy="395.3" r="3.4"/><circle cx="153.3" cy="402.4" r="3.4"/><circle cx="156.5" cy="402.9" r="3.4"/><circle cx="159.8" cy="403.4" r="3.4"/><circle cx="169.6" cy="402.9" r="3.4"/><circle cx="177.8" cy="405.6" r="3.4"/><circle cx="180.0" cy="406.2" r="3.4"/><circle cx="182.7" cy="405.1" r="3.4"/><circle cx="184.4" cy="403.4" r="3.4"/><circle cx="187.6" cy="402.9" r="3.4"/><circle cx="189.8" cy="404.0" r="3.4"/><circle cx="202.9" cy="402.9" r="3.4"/><circle cx="200.2" cy="412.7" r="3.4"/><circle cx="203.4" cy="411.6" r="3.4"/><circle cx="206.7" cy="412.7" r="3.4"/><circle cx="198.0" cy="414.9" r="3.4"/><circle cx="194.7" cy="422.5" r="3.4"/><circle cx="196.9" cy="423.6" r="3.4"/><circle cx="198.0" cy="422.0" r="3.4"/><circle cx="153.3" cy="414.9" r="3.4"/><circle cx="156.5" cy="413.8" r="3.4"/><circle cx="158.7" cy="416.0" r="3.4"/><circle cx="162.0" cy="412.7" r="3.4"/><circle cx="165.3" cy="412.7" r="3.4"/><circle cx="164.2" cy="416.0" r="3.4"/><circle cx="152.2" cy="418.2" r="3.4"/><circle cx="156.5" cy="419.3" r="3.4"/><circle cx="171.8" cy="410.5" r="3.4"/><circle cx="175.1" cy="412.7" r="3.4"/><circle cx="177.3" cy="414.9" r="3.4"/><circle cx="179.4" cy="412.7" r="3.4"/><circle cx="181.6" cy="416.0" r="3.4"/><circle cx="183.8" cy="412.7" r="3.4"/><circle cx="186.0" cy="414.9" r="3.4"/><circle cx="188.2" cy="411.6" r="3.4"/><circle cx="190.3" cy="412.7" r="3.4"/><circle cx="175.1" cy="418.2" r="3.4"/><circle cx="178.4" cy="419.3" r="3.4"/><circle cx="180.5" cy="421.4" r="3.4"/><circle cx="169.6" cy="423.1" r="3.4"/><circle cx="183.3" cy="428.5" r="3.4"/><circle cx="156.5" cy="430.2" r="3.4"/><circle cx="162.0" cy="428.0" r="3.4"/></g><rect x="47.00" y="326.60" width="213.30" height="212.70" fill="none" stroke="#6e6e6e" stroke-width="1"/><path d="M53.27 539.30v-2.1M53.27 326.60v2.1M47.00 533.05h2.1M260.30 533.05h-2.1" stroke="#6e6e6e" stroke-width="0.8" fill="none"/><text transform="translate(51.57,555.30) scale(1.08,1)" text-anchor="middle" font-size="10.6" fill="#262626"><tspan>−</tspan><tspan dx="1.0">1</tspan></text><text transform="translate(42.20,537.45) scale(1.08,1)" text-anchor="end" font-size="10.6" fill="#262626"><tspan>−</tspan><tspan dx="0.6">1</tspan></text><path d="M105.50 539.30v-2.1M105.50 326.60v2.1M47.00 480.97h2.1M260.30 480.97h-2.1" stroke="#6e6e6e" stroke-width="0.8" fill="none"/><text transform="translate(103.80,555.30) scale(1.08,1)" text-anchor="middle" font-size="10.6" fill="#262626"><tspan>−</tspan><tspan dx="1.0">0.5</tspan></text><text transform="translate(42.20,485.37) scale(1.08,1)" text-anchor="end" font-size="10.6" fill="#262626"><tspan>−</tspan><tspan dx="0.6">0.5</tspan></text><path d="M157.72 539.30v-2.1M157.72 326.60v2.1M47.00 428.89h2.1M260.30 428.89h-2.1" stroke="#6e6e6e" stroke-width="0.8" fill="none"/><text transform="translate(157.72,555.30) scale(1.08,1)" text-anchor="middle" font-size="10.6" fill="#262626">0</text><text transform="translate(42.20,433.29) scale(1.08,1)" text-anchor="end" font-size="10.6" fill="#262626">0</text><path d="M209.95 539.30v-2.1M209.95 326.60v2.1M47.00 376.81h2.1M260.30 376.81h-2.1" stroke="#6e6e6e" stroke-width="0.8" fill="none"/><text transform="translate(209.95,555.30) scale(1.08,1)" text-anchor="middle" font-size="10.6" fill="#262626">0.5</text><text transform="translate(42.20,381.21) scale(1.08,1)" text-anchor="end" font-size="10.6" fill="#262626">0.5</text><text transform="translate(153.65,319.30) scale(1.07,1)" text-anchor="middle" font-size="13.4" font-weight="bold" fill="#000">Test: R=0.95667</text><text transform="translate(153.65,573.80) scale(1.07,1)" text-anchor="middle" font-size="13.4" font-weight="bold" fill="#000">Target</text><text transform="translate(15.90,433.45) rotate(-90) scale(1.0,1)" text-anchor="middle" font-size="14.5" font-weight="bold" fill="#000">Output ~= 0.91*Target + 0.012</text><rect x="56.20" y="336.10" width="71.6" height="45.5" fill="#fff" stroke="#6e6e6e" stroke-width="1"/><circle cx="78.00" cy="345.40" r="3.4" fill="none" stroke="#111" stroke-width="0.95"/><line x1="59.90" y1="359.10" x2="96.00" y2="359.10" stroke="#ff0000" stroke-width="2.5"/><line x1="59.90" y1="373.10" x2="96.00" y2="373.10" stroke="#5a5a5a" stroke-width="0.9" stroke-dasharray="1 2.7"/><text transform="translate(99.40,348.40) scale(1.03,1)" font-size="9.9" fill="#111">Data</text><text transform="translate(99.40,362.40) scale(1.03,1)" font-size="9.9" fill="#111">Fit</text><text transform="translate(99.40,376.40) scale(1.03,1)" font-size="9.9" fill="#111">Y = T</text></g>
<g><line x1="327.50" y1="539.80" x2="541.40" y2="326.40" stroke="#5a5a5a" stroke-width="0.9" stroke-dasharray="1 2.7"/><line x1="327.50" y1="531.33" x2="541.40" y2="335.01" stroke="#666666" stroke-width="2.5"/><g fill="none" stroke="#111" stroke-width="0.95"><circle cx="333.4" cy="537.2" r="3.4"/><circle cx="333.5" cy="535.1" r="3.4"/><circle cx="333.4" cy="530.7" r="3.4"/><circle cx="333.6" cy="531.5" r="3.4"/><circle cx="333.6" cy="529.5" r="3.4"/><circle cx="333.5" cy="536.3" r="3.4"/><circle cx="333.6" cy="532.8" r="3.4"/><circle cx="337.2" cy="517.9" r="3.4"/><circle cx="341.3" cy="512.6" r="3.4"/><circle cx="337.6" cy="508.2" r="3.4"/><circle cx="338.1" cy="515.2" r="3.4"/><circle cx="336.3" cy="512.7" r="3.4"/><circle cx="339.9" cy="512.6" r="3.4"/><circle cx="336.6" cy="507.5" r="3.4"/><circle cx="341.1" cy="508.5" r="3.4"/><circle cx="339.1" cy="513.5" r="3.4"/><circle cx="341.1" cy="516.9" r="3.4"/><circle cx="335.4" cy="511.9" r="3.4"/><circle cx="367.9" cy="503.0" r="3.4"/><circle cx="373.2" cy="503.6" r="3.4"/><circle cx="351.1" cy="506.6" r="3.4"/><circle cx="361.1" cy="503.3" r="3.4"/><circle cx="373.6" cy="503.0" r="3.4"/><circle cx="370.7" cy="506.9" r="3.4"/><circle cx="352.4" cy="507.1" r="3.4"/><circle cx="358.3" cy="505.7" r="3.4"/><circle cx="346.9" cy="504.9" r="3.4"/><circle cx="369.1" cy="506.9" r="3.4"/><circle cx="354.7" cy="508.0" r="3.4"/><circle cx="363.1" cy="504.1" r="3.4"/><circle cx="363.3" cy="505.1" r="3.4"/><circle cx="364.5" cy="502.9" r="3.4"/><circle cx="358.9" cy="503.1" r="3.4"/><circle cx="370.5" cy="504.8" r="3.4"/><circle cx="356.8" cy="505.8" r="3.4"/><circle cx="363.7" cy="505.9" r="3.4"/><circle cx="372.5" cy="505.3" r="3.4"/><circle cx="364.5" cy="507.9" r="3.4"/><circle cx="353.6" cy="502.8" r="3.4"/><circle cx="360.3" cy="504.7" r="3.4"/><circle cx="368.1" cy="508.0" r="3.4"/><circle cx="351.6" cy="502.6" r="3.4"/><circle cx="371.1" cy="503.1" r="3.4"/><circle cx="353.4" cy="502.6" r="3.4"/><circle cx="349.2" cy="506.6" r="3.4"/><circle cx="356.7" cy="504.5" r="3.4"/><circle cx="347.9" cy="507.6" r="3.4"/><circle cx="348.6" cy="505.2" r="3.4"/><circle cx="357.5" cy="507.7" r="3.4"/><circle cx="371.6" cy="508.2" r="3.4"/><circle cx="374.7" cy="508.0" r="3.4"/><circle cx="355.0" cy="503.4" r="3.4"/><circle cx="362.0" cy="507.2" r="3.4"/><circle cx="359.4" cy="506.9" r="3.4"/><circle cx="366.1" cy="504.8" r="3.4"/><circle cx="346.7" cy="503.3" r="3.4"/><circle cx="350.1" cy="512.7" r="3.4"/><circle cx="356.6" cy="512.5" r="3.4"/><circle cx="371.1" cy="513.3" r="3.4"/><circle cx="368.0" cy="513.1" r="3.4"/><circle cx="367.9" cy="517.0" r="3.4"/><circle cx="355.0" cy="512.6" r="3.4"/><circle cx="356.4" cy="518.3" r="3.4"/><circle cx="370.4" cy="517.6" r="3.4"/><circle cx="368.9" cy="513.9" r="3.4"/><circle cx="357.6" cy="517.8" r="3.4"/><circle cx="358.4" cy="513.4" r="3.4"/><circle cx="371.1" cy="514.3" r="3.4"/><circle cx="362.5" cy="507.9" r="3.4"/><circle cx="361.5" cy="515.3" r="3.4"/><circle cx="352.7" cy="512.9" r="3.4"/><circle cx="372.6" cy="509.0" r="3.4"/><circle cx="354.3" cy="517.8" r="3.4"/><circle cx="357.3" cy="507.6" r="3.4"/><circle cx="361.0" cy="517.3" r="3.4"/><circle cx="351.4" cy="516.3" r="3.4"/><circle cx="361.2" cy="512.8" r="3.4"/><circle cx="365.5" cy="514.7" r="3.4"/><circle cx="348.6" cy="514.5" r="3.4"/><circle cx="354.3" cy="513.1" r="3.4"/><circle cx="366.0" cy="508.1" r="3.4"/><circle cx="350.5" cy="509.6" r="3.4"/><circle cx="376.9" cy="492.7" r="3.4"/><circle cx="384.9" cy="492.6" r="3.4"/><circle cx="373.3" cy="492.7" r="3.4"/><circle cx="374.1" cy="492.9" r="3.4"/><circle cx="368.2" cy="493.1" r="3.4"/><circle cx="381.9" cy="492.1" r="3.4"/><circle cx="376.1" cy="492.1" r="3.4"/><circle cx="386.6" cy="492.7" r="3.4"/><circle cx="378.6" cy="491.3" r="3.4"/><circle cx="377.1" cy="492.8" r="3.4"/><circle cx="380.5" cy="492.2" r="3.4"/><circle cx="371.9" cy="494.4" r="3.4"/><circle cx="363.7" cy="493.1" r="3.4"/><circle cx="366.0" cy="490.5" r="3.4"/><circle cx="370.7" cy="492.7" r="3.4"/><circle cx="384.3" cy="492.2" r="3.4"/><circle cx="363.2" cy="492.2" r="3.4"/><circle cx="364.2" cy="492.8" r="3.4"/><circle cx="365.4" cy="491.5" r="3.4"/><circle cx="365.5" cy="490.5" r="3.4"/><circle cx="386.1" cy="492.4" r="3.4"/><circle cx="370.0" cy="492.4" r="3.4"/><circle cx="383.1" cy="492.3" r="3.4"/><circle cx="386.5" cy="492.9" r="3.4"/><circle cx="368.8" cy="490.8" r="3.4"/><circle cx="380.9" cy="492.9" r="3.4"/><circle cx="368.0" cy="492.8" r="3.4"/><circle cx="371.7" cy="492.5" r="3.4"/><circle cx="387.2" cy="492.3" r="3.4"/><circle cx="367.6" cy="492.1" r="3.4"/><circle cx="372.7" cy="490.7" r="3.4"/><circle cx="377.7" cy="493.5" r="3.4"/><circle cx="370.0" cy="491.9" r="3.4"/><circle cx="376.8" cy="493.9" r="3.4"/><circle cx="392.0" cy="475.4" r="3.4"/><circle cx="393.5" cy="474.4" r="3.4"/><circle cx="386.6" cy="474.4" r="3.4"/><circle cx="394.1" cy="474.8" r="3.4"/><circle cx="391.7" cy="475.0" r="3.4"/><circle cx="397.7" cy="475.8" r="3.4"/><circle cx="399.1" cy="475.7" r="3.4"/><circle cx="400.1" cy="474.8" r="3.4"/><circle cx="390.2" cy="474.4" r="3.4"/><circle cx="396.2" cy="474.6" r="3.4"/><circle cx="386.9" cy="474.5" r="3.4"/><circle cx="400.5" cy="474.4" r="3.4"/><circle cx="388.0" cy="474.8" r="3.4"/><circle cx="398.6" cy="474.4" r="3.4"/><circle cx="397.2" cy="475.0" r="3.4"/><circle cx="397.8" cy="474.7" r="3.4"/><circle cx="386.0" cy="475.2" r="3.4"/><circle cx="390.5" cy="475.1" r="3.4"/><circle cx="388.0" cy="474.5" r="3.4"/><circle cx="395.1" cy="474.7" r="3.4"/><circle cx="361.2" cy="464.5" r="3.4"/><circle cx="361.9" cy="464.0" r="3.4"/><circle cx="364.9" cy="467.1" r="3.4"/><circle cx="382.3" cy="465.0" r="3.4"/><circle cx="376.2" cy="464.2" r="3.4"/><circle cx="360.8" cy="463.6" r="3.4"/><circle cx="375.3" cy="468.5" r="3.4"/><circle cx="374.3" cy="463.3" r="3.4"/><circle cx="365.7" cy="463.2" r="3.4"/><circle cx="377.9" cy="464.4" r="3.4"/><circle cx="380.9" cy="461.7" r="3.4"/><circle cx="377.2" cy="462.8" r="3.4"/><circle cx="373.4" cy="465.4" r="3.4"/><circle cx="371.1" cy="461.0" r="3.4"/><circle cx="364.6" cy="464.6" r="3.4"/><circle cx="369.5" cy="464.3" r="3.4"/><circle cx="370.8" cy="467.2" r="3.4"/><circle cx="363.9" cy="464.0" r="3.4"/><circle cx="361.5" cy="468.7" r="3.4"/><circle cx="366.9" cy="464.4" r="3.4"/><circle cx="364.0" cy="466.9" r="3.4"/><circle cx="382.0" cy="463.9" r="3.4"/><circle cx="379.1" cy="465.8" r="3.4"/><circle cx="378.1" cy="464.0" r="3.4"/><circle cx="367.6" cy="464.5" r="3.4"/><circle cx="382.0" cy="468.2" r="3.4"/><circle cx="372.3" cy="468.7" r="3.4"/><circle cx="367.6" cy="468.7" r="3.4"/><circle cx="415.8" cy="454.1" r="3.4"/><circle cx="415.4" cy="464.0" r="3.4"/><circle cx="389.8" cy="460.0" r="3.4"/><circle cx="383.7" cy="453.8" r="3.4"/><circle cx="415.1" cy="451.1" r="3.4"/><circle cx="397.0" cy="455.1" r="3.4"/><circle cx="404.5" cy="449.5" r="3.4"/><circle cx="382.4" cy="458.6" r="3.4"/><circle cx="421.3" cy="463.5" r="3.4"/><circle cx="404.4" cy="468.9" r="3.4"/><circle cx="423.8" cy="454.8" r="3.4"/><circle cx="403.1" cy="457.2" r="3.4"/><circle cx="403.7" cy="464.3" r="3.4"/><circle cx="405.0" cy="452.4" r="3.4"/><circle cx="425.8" cy="447.9" r="3.4"/><circle cx="383.6" cy="457.3" r="3.4"/><circle cx="423.0" cy="450.9" r="3.4"/><circle cx="388.7" cy="462.7" r="3.4"/><circle cx="401.1" cy="460.0" r="3.4"/><circle cx="388.1" cy="451.4" r="3.4"/><circle cx="399.4" cy="453.1" r="3.4"/><circle cx="403.6" cy="466.8" r="3.4"/><circle cx="409.1" cy="448.3" r="3.4"/><circle cx="392.3" cy="458.4" r="3.4"/><circle cx="411.6" cy="457.1" r="3.4"/><circle cx="389.9" cy="464.4" r="3.4"/><circle cx="399.3" cy="456.5" r="3.4"/><circle cx="390.6" cy="454.6" r="3.4"/><circle cx="409.7" cy="451.4" r="3.4"/><circle cx="405.7" cy="459.6" r="3.4"/><circle cx="385.5" cy="451.4" r="3.4"/><circle cx="409.6" cy="458.5" r="3.4"/><circle cx="407.4" cy="464.4" r="3.4"/><circle cx="388.0" cy="456.2" r="3.4"/><circle cx="383.0" cy="464.1" r="3.4"/><circle cx="389.0" cy="460.9" r="3.4"/><circle cx="391.7" cy="462.0" r="3.4"/><circle cx="412.3" cy="464.5" r="3.4"/><circle cx="407.4" cy="461.7" r="3.4"/><circle cx="402.3" cy="453.9" r="3.4"/><circle cx="388.8" cy="455.0" r="3.4"/><circle cx="390.0" cy="450.7" r="3.4"/><circle cx="407.2" cy="451.5" r="3.4"/><circle cx="422.2" cy="461.0" r="3.4"/><circle cx="418.8" cy="462.4" r="3.4"/><circle cx="391.4" cy="450.9" r="3.4"/><circle cx="400.9" cy="448.8" r="3.4"/><circle cx="404.0" cy="464.8" r="3.4"/><circle cx="419.4" cy="450.8" r="3.4"/><circle cx="416.8" cy="448.0" r="3.4"/><circle cx="403.5" cy="449.3" r="3.4"/><circle cx="396.0" cy="450.9" r="3.4"/><circle cx="402.9" cy="458.8" r="3.4"/><circle cx="395.6" cy="464.9" r="3.4"/><circle cx="418.6" cy="467.0" r="3.4"/><circle cx="422.4" cy="456.8" r="3.4"/><circle cx="405.5" cy="456.5" r="3.4"/><circle cx="394.4" cy="459.6" r="3.4"/><circle cx="414.8" cy="462.2" r="3.4"/><circle cx="409.0" cy="453.0" r="3.4"/><circle cx="385.0" cy="468.5" r="3.4"/><circle cx="384.2" cy="458.1" r="3.4"/><circle cx="412.5" cy="458.1" r="3.4"/><circle cx="381.8" cy="464.3" r="3.4"/><circle cx="417.8" cy="458.1" r="3.4"/><circle cx="408.0" cy="452.0" r="3.4"/><circle cx="384.0" cy="458.5" r="3.4"/><circle cx="388.8" cy="460.3" r="3.4"/><circle cx="420.4" cy="458.6" r="3.4"/><circle cx="385.2" cy="452.4" r="3.4"/><circle cx="397.4" cy="460.7" r="3.4"/><circle cx="384.5" cy="464.8" r="3.4"/><circle cx="396.6" cy="451.4" r="3.4"/><circle cx="394.9" cy="460.9" r="3.4"/><circle cx="415.3" cy="468.1" r="3.4"/><circle cx="420.9" cy="448.5" r="3.4"/><circle cx="384.8" cy="455.8" r="3.4"/><circle cx="416.4" cy="457.1" r="3.4"/><circle cx="425.3" cy="458.0" r="3.4"/><circle cx="393.9" cy="467.4" r="3.4"/><circle cx="415.5" cy="459.9" r="3.4"/><circle cx="387.9" cy="458.9" r="3.4"/><circle cx="387.7" cy="450.9" r="3.4"/><circle cx="395.9" cy="467.3" r="3.4"/><circle cx="407.1" cy="458.7" r="3.4"/><circle cx="411.8" cy="452.4" r="3.4"/><circle cx="382.7" cy="450.0" r="3.4"/><circle cx="423.2" cy="458.5" r="3.4"/><circle cx="425.2" cy="466.3" r="3.4"/><circle cx="411.3" cy="462.0" r="3.4"/><circle cx="413.0" cy="460.0" r="3.4"/><circle cx="385.1" cy="461.8" r="3.4"/><circle cx="399.4" cy="460.4" r="3.4"/><circle cx="392.3" cy="448.0" r="3.4"/><circle cx="418.7" cy="451.1" r="3.4"/><circle cx="396.2" cy="448.9" r="3.4"/><circle cx="407.8" cy="467.9" r="3.4"/><circle cx="412.5" cy="468.8" r="3.4"/><circle cx="401.1" cy="464.0" r="3.4"/><circle cx="424.2" cy="455.6" r="3.4"/><circle cx="416.5" cy="458.5" r="3.4"/><circle cx="395.1" cy="456.0" r="3.4"/><circle cx="425.2" cy="459.4" r="3.4"/><circle cx="382.6" cy="451.5" r="3.4"/><circle cx="402.5" cy="451.4" r="3.4"/><circle cx="406.3" cy="455.1" r="3.4"/><circle cx="403.8" cy="454.3" r="3.4"/><circle cx="403.2" cy="461.9" r="3.4"/><circle cx="388.9" cy="468.2" r="3.4"/><circle cx="396.6" cy="458.6" r="3.4"/><circle cx="423.2" cy="464.4" r="3.4"/><circle cx="384.7" cy="454.0" r="3.4"/><circle cx="398.6" cy="466.7" r="3.4"/><circle cx="390.8" cy="465.7" r="3.4"/><circle cx="393.0" cy="464.6" r="3.4"/><circle cx="413.6" cy="448.0" r="3.4"/><circle cx="408.8" cy="467.4" r="3.4"/><circle cx="420.4" cy="449.1" r="3.4"/><circle cx="399.5" cy="466.2" r="3.4"/><circle cx="420.2" cy="458.3" r="3.4"/><circle cx="408.7" cy="461.5" r="3.4"/><circle cx="396.5" cy="464.3" r="3.4"/><circle cx="418.5" cy="462.8" r="3.4"/><circle cx="417.7" cy="451.1" r="3.4"/><circle cx="421.7" cy="450.5" r="3.4"/><circle cx="413.0" cy="449.8" r="3.4"/><circle cx="416.3" cy="464.0" r="3.4"/><circle cx="418.0" cy="453.7" r="3.4"/><circle cx="400.5" cy="450.9" r="3.4"/><circle cx="410.6" cy="456.8" r="3.4"/><circle cx="391.9" cy="450.4" r="3.4"/><circle cx="410.5" cy="464.9" r="3.4"/><circle cx="425.6" cy="451.7" r="3.4"/><circle cx="395.5" cy="451.5" r="3.4"/><circle cx="408.3" cy="458.1" r="3.4"/><circle cx="416.7" cy="466.9" r="3.4"/><circle cx="397.8" cy="452.2" r="3.4"/><circle cx="415.1" cy="458.2" r="3.4"/><circle cx="393.3" cy="453.7" r="3.4"/><circle cx="393.8" cy="456.3" r="3.4"/><circle cx="432.2" cy="464.0" r="3.4"/><circle cx="436.2" cy="451.5" r="3.4"/><circle cx="439.8" cy="451.1" r="3.4"/><circle cx="426.0" cy="456.4" r="3.4"/><circle cx="437.0" cy="464.7" r="3.4"/><circle cx="444.4" cy="450.9" r="3.4"/><circle cx="451.7" cy="464.8" r="3.4"/><circle cx="450.3" cy="458.3" r="3.4"/><circle cx="450.7" cy="445.6" r="3.4"/><circle cx="450.2" cy="458.7" r="3.4"/><circle cx="434.1" cy="446.2" r="3.4"/><circle cx="438.7" cy="458.6" r="3.4"/><circle cx="452.9" cy="458.1" r="3.4"/><circle cx="453.1" cy="445.7" r="3.4"/><circle cx="444.5" cy="458.2" r="3.4"/><circle cx="447.1" cy="447.0" r="3.4"/><circle cx="440.7" cy="447.1" r="3.4"/><circle cx="454.4" cy="451.7" r="3.4"/><circle cx="440.2" cy="458.2" r="3.4"/><circle cx="426.2" cy="445.7" r="3.4"/><circle cx="440.8" cy="464.2" r="3.4"/><circle cx="451.2" cy="451.5" r="3.4"/><circle cx="432.4" cy="451.2" r="3.4"/><circle cx="440.5" cy="451.6" r="3.4"/><circle cx="443.4" cy="446.3" r="3.4"/><circle cx="453.3" cy="458.7" r="3.4"/><circle cx="445.7" cy="464.4" r="3.4"/><circle cx="429.8" cy="458.3" r="3.4"/><circle cx="426.1" cy="450.9" r="3.4"/><circle cx="429.5" cy="461.0" r="3.4"/><circle cx="448.7" cy="464.1" r="3.4"/><circle cx="436.8" cy="451.0" r="3.4"/><circle cx="429.4" cy="464.0" r="3.4"/><circle cx="436.1" cy="458.8" r="3.4"/><circle cx="425.9" cy="458.4" r="3.4"/><circle cx="452.2" cy="445.5" r="3.4"/><circle cx="433.3" cy="445.7" r="3.4"/><circle cx="445.1" cy="458.7" r="3.4"/><circle cx="433.9" cy="450.7" r="3.4"/><circle cx="444.4" cy="445.7" r="3.4"/><circle cx="440.5" cy="458.2" r="3.4"/><circle cx="429.5" cy="445.4" r="3.4"/><circle cx="434.2" cy="461.7" r="3.4"/><circle cx="429.5" cy="445.8" r="3.4"/><circle cx="450.2" cy="446.1" r="3.4"/><circle cx="429.5" cy="441.8" r="3.4"/><circle cx="428.3" cy="441.7" r="3.4"/><circle cx="419.0" cy="441.3" r="3.4"/><circle cx="425.5" cy="440.9" r="3.4"/><circle cx="427.6" cy="446.1" r="3.4"/><circle cx="419.4" cy="439.8" r="3.4"/><circle cx="423.7" cy="439.4" r="3.4"/><circle cx="421.2" cy="440.0" r="3.4"/><circle cx="422.3" cy="446.2" r="3.4"/><circle cx="428.9" cy="446.0" r="3.4"/><circle cx="418.7" cy="446.6" r="3.4"/><circle cx="429.6" cy="441.6" r="3.4"/><circle cx="420.0" cy="441.0" r="3.4"/><circle cx="427.5" cy="446.1" r="3.4"/><circle cx="423.4" cy="446.2" r="3.4"/><circle cx="427.1" cy="441.2" r="3.4"/><circle cx="422.4" cy="441.5" r="3.4"/><circle cx="421.2" cy="446.2" r="3.4"/><circle cx="417.0" cy="444.1" r="3.4"/><circle cx="423.1" cy="446.3" r="3.4"/><circle cx="428.6" cy="441.4" r="3.4"/><circle cx="430.6" cy="445.4" r="3.4"/><circle cx="431.2" cy="434.4" r="3.4"/><circle cx="440.0" cy="446.2" r="3.4"/><circle cx="440.6" cy="439.3" r="3.4"/><circle cx="437.9" cy="434.4" r="3.4"/><circle cx="439.1" cy="447.2" r="3.4"/><circle cx="438.5" cy="441.1" r="3.4"/><circle cx="427.9" cy="444.6" r="3.4"/><circle cx="435.1" cy="441.3" r="3.4"/><circle cx="431.6" cy="439.8" r="3.4"/><circle cx="432.4" cy="448.0" r="3.4"/><circle cx="435.1" cy="446.3" r="3.4"/><circle cx="431.9" cy="441.4" r="3.4"/><circle cx="430.2" cy="435.2" r="3.4"/><circle cx="400.1" cy="440.2" r="3.4"/><circle cx="410.9" cy="441.3" r="3.4"/><circle cx="407.8" cy="439.9" r="3.4"/><circle cx="394.8" cy="440.4" r="3.4"/><circle cx="385.7" cy="441.0" r="3.4"/><circle cx="398.2" cy="440.3" r="3.4"/><circle cx="410.2" cy="441.0" r="3.4"/><circle cx="390.8" cy="441.0" r="3.4"/><circle cx="389.0" cy="441.0" r="3.4"/><circle cx="403.4" cy="440.3" r="3.4"/><circle cx="384.2" cy="441.3" r="3.4"/><circle cx="396.7" cy="440.9" r="3.4"/><circle cx="440.3" cy="424.0" r="3.4"/><circle cx="433.5" cy="429.6" r="3.4"/><circle cx="460.6" cy="435.2" r="3.4"/><circle cx="429.5" cy="430.4" r="3.4"/><circle cx="451.0" cy="423.8" r="3.4"/><circle cx="427.0" cy="411.3" r="3.4"/><circle cx="441.1" cy="416.0" r="3.4"/><circle cx="439.9" cy="423.6" r="3.4"/><circle cx="459.5" cy="430.0" r="3.4"/><circle cx="451.5" cy="414.9" r="3.4"/><circle cx="465.2" cy="430.2" r="3.4"/><circle cx="422.3" cy="412.0" r="3.4"/><circle cx="451.9" cy="405.7" r="3.4"/><circle cx="444.3" cy="416.2" r="3.4"/><circle cx="444.3" cy="435.1" r="3.4"/><circle cx="450.1" cy="410.6" r="3.4"/><circle cx="438.3" cy="430.0" r="3.4"/><circle cx="437.6" cy="423.5" r="3.4"/><circle cx="426.0" cy="410.4" r="3.4"/><circle cx="453.1" cy="423.5" r="3.4"/><circle cx="463.2" cy="416.2" r="3.4"/><circle cx="447.8" cy="430.2" r="3.4"/><circle cx="437.4" cy="437.7" r="3.4"/><circle cx="459.6" cy="404.1" r="3.4"/><circle cx="423.4" cy="409.2" r="3.4"/><circle cx="465.0" cy="423.9" r="3.4"/><circle cx="461.6" cy="404.6" r="3.4"/><circle cx="436.5" cy="411.2" r="3.4"/><circle cx="436.9" cy="404.7" r="3.4"/><circle cx="458.9" cy="411.1" r="3.4"/><circle cx="442.3" cy="435.0" r="3.4"/><circle cx="446.2" cy="434.8" r="3.4"/><circle cx="424.9" cy="404.3" r="3.4"/><circle cx="446.1" cy="422.8" r="3.4"/><circle cx="439.8" cy="420.0" r="3.4"/><circle cx="433.1" cy="409.7" r="3.4"/><circle cx="441.2" cy="429.6" r="3.4"/><circle cx="465.3" cy="430.5" r="3.4"/><circle cx="435.9" cy="416.0" r="3.4"/><circle cx="442.6" cy="434.4" r="3.4"/><circle cx="463.8" cy="423.5" r="3.4"/><circle cx="427.3" cy="417.6" r="3.4"/><circle cx="459.1" cy="435.7" r="3.4"/><circle cx="456.0" cy="425.4" r="3.4"/><circle cx="434.6" cy="423.8" r="3.4"/><circle cx="454.1" cy="404.2" r="3.4"/><circle cx="434.3" cy="434.4" r="3.4"/><circle cx="458.1" cy="416.4" r="3.4"/><circle cx="447.1" cy="416.0" r="3.4"/><circle cx="454.7" cy="416.7" r="3.4"/><circle cx="431.5" cy="421.4" r="3.4"/><circle cx="455.1" cy="410.6" r="3.4"/><circle cx="452.0" cy="411.2" r="3.4"/><circle cx="425.5" cy="430.1" r="3.4"/><circle cx="452.3" cy="429.8" r="3.4"/><circle cx="430.7" cy="406.1" r="3.4"/><circle cx="437.7" cy="404.8" r="3.4"/><circle cx="456.6" cy="410.8" r="3.4"/><circle cx="464.2" cy="411.2" r="3.4"/><circle cx="427.8" cy="424.0" r="3.4"/><circle cx="461.7" cy="410.6" r="3.4"/><circle cx="451.6" cy="434.8" r="3.4"/><circle cx="463.7" cy="404.2" r="3.4"/><circle cx="431.7" cy="410.5" r="3.4"/><circle cx="460.5" cy="429.9" r="3.4"/><circle cx="430.0" cy="404.5" r="3.4"/><circle cx="444.0" cy="423.6" r="3.4"/><circle cx="434.5" cy="409.1" r="3.4"/><circle cx="454.0" cy="435.2" r="3.4"/><circle cx="461.2" cy="416.3" r="3.4"/><circle cx="430.1" cy="416.6" r="3.4"/><circle cx="445.0" cy="404.7" r="3.4"/><circle cx="446.3" cy="410.4" r="3.4"/><circle cx="423.0" cy="428.7" r="3.4"/><circle cx="423.3" cy="423.7" r="3.4"/><circle cx="433.2" cy="423.4" r="3.4"/><circle cx="423.3" cy="430.3" r="3.4"/><circle cx="461.4" cy="424.2" r="3.4"/><circle cx="439.5" cy="437.5" r="3.4"/><circle cx="424.0" cy="424.2" r="3.4"/><circle cx="426.8" cy="404.2" r="3.4"/><circle cx="466.0" cy="416.1" r="3.4"/><circle cx="452.6" cy="430.4" r="3.4"/><circle cx="425.7" cy="435.2" r="3.4"/><circle cx="431.1" cy="410.6" r="3.4"/><circle cx="426.2" cy="429.9" r="3.4"/><circle cx="448.8" cy="410.9" r="3.4"/><circle cx="450.5" cy="416.5" r="3.4"/><circle cx="439.1" cy="404.2" r="3.4"/><circle cx="431.3" cy="435.1" r="3.4"/><circle cx="462.5" cy="404.0" r="3.4"/><circle cx="465.9" cy="417.3" r="3.4"/><circle cx="448.2" cy="435.2" r="3.4"/><circle cx="425.5" cy="404.3" r="3.4"/><circle cx="440.3" cy="411.0" r="3.4"/><circle cx="432.4" cy="434.5" r="3.4"/><circle cx="456.5" cy="430.4" r="3.4"/><circle cx="445.9" cy="410.7" r="3.4"/><circle cx="444.5" cy="416.2" r="3.4"/><circle cx="458.8" cy="423.8" r="3.4"/><circle cx="461.6" cy="430.0" r="3.4"/><circle cx="446.6" cy="403.9" r="3.4"/><circle cx="453.3" cy="404.2" r="3.4"/><circle cx="464.2" cy="407.9" r="3.4"/><circle cx="450.6" cy="423.7" r="3.4"/><circle cx="446.3" cy="423.9" r="3.4"/><circle cx="453.0" cy="430.1" r="3.4"/><circle cx="434.5" cy="418.7" r="3.4"/><circle cx="423.4" cy="410.8" r="3.4"/><circle cx="431.3" cy="430.3" r="3.4"/><circle cx="458.9" cy="424.3" r="3.4"/><circle cx="438.7" cy="423.9" r="3.4"/><circle cx="433.4" cy="410.7" r="3.4"/><circle cx="459.7" cy="429.8" r="3.4"/><circle cx="447.2" cy="403.9" r="3.4"/><circle cx="428.3" cy="423.6" r="3.4"/><circle cx="422.2" cy="416.5" r="3.4"/><circle cx="443.9" cy="411.2" r="3.4"/><circle cx="435.9" cy="434.4" r="3.4"/><circle cx="459.6" cy="410.9" r="3.4"/><circle cx="434.5" cy="404.5" r="3.4"/><circle cx="445.2" cy="429.9" r="3.4"/><circle cx="440.7" cy="408.2" r="3.4"/><circle cx="455.0" cy="416.6" r="3.4"/><circle cx="429.2" cy="424.1" r="3.4"/><circle cx="444.4" cy="429.6" r="3.4"/><circle cx="466.0" cy="435.0" r="3.4"/><circle cx="461.7" cy="434.8" r="3.4"/><circle cx="423.5" cy="434.9" r="3.4"/><circle cx="436.7" cy="415.8" r="3.4"/><circle cx="461.5" cy="413.6" r="3.4"/><circle cx="454.2" cy="409.4" r="3.4"/><circle cx="470.6" cy="407.2" r="3.4"/><circle cx="465.1" cy="411.3" r="3.4"/><circle cx="454.7" cy="419.4" r="3.4"/><circle cx="458.0" cy="412.5" r="3.4"/><circle cx="459.9" cy="422.1" r="3.4"/><circle cx="456.1" cy="415.4" r="3.4"/><circle cx="457.8" cy="422.2" r="3.4"/><circle cx="465.9" cy="410.5" r="3.4"/><circle cx="466.3" cy="413.3" r="3.4"/><circle cx="455.9" cy="419.0" r="3.4"/><circle cx="461.7" cy="407.8" r="3.4"/><circle cx="472.5" cy="419.0" r="3.4"/><circle cx="473.7" cy="413.4" r="3.4"/><circle cx="462.3" cy="410.9" r="3.4"/><circle cx="457.7" cy="410.4" r="3.4"/><circle cx="459.0" cy="419.7" r="3.4"/><circle cx="450.7" cy="411.2" r="3.4"/><circle cx="455.3" cy="421.1" r="3.4"/><circle cx="452.1" cy="408.2" r="3.4"/><circle cx="454.1" cy="413.1" r="3.4"/><circle cx="467.0" cy="420.0" r="3.4"/><circle cx="470.0" cy="421.2" r="3.4"/><circle cx="471.8" cy="411.2" r="3.4"/><circle cx="470.7" cy="412.8" r="3.4"/><circle cx="468.6" cy="414.1" r="3.4"/><circle cx="463.9" cy="416.5" r="3.4"/><circle cx="469.5" cy="419.4" r="3.4"/><circle cx="465.4" cy="417.2" r="3.4"/><circle cx="471.1" cy="408.8" r="3.4"/><circle cx="452.0" cy="422.1" r="3.4"/><circle cx="473.4" cy="422.5" r="3.4"/><circle cx="455.8" cy="413.9" r="3.4"/><circle cx="464.3" cy="416.3" r="3.4"/><circle cx="462.4" cy="409.7" r="3.4"/><circle cx="450.7" cy="416.3" r="3.4"/><circle cx="462.7" cy="420.7" r="3.4"/><circle cx="451.7" cy="417.9" r="3.4"/><circle cx="458.9" cy="409.8" r="3.4"/><circle cx="403.4" cy="423.4" r="3.4"/><circle cx="417.8" cy="430.1" r="3.4"/><circle cx="404.8" cy="430.5" r="3.4"/><circle cx="411.0" cy="423.5" r="3.4"/><circle cx="408.4" cy="423.8" r="3.4"/><circle cx="415.6" cy="416.4" r="3.4"/><circle cx="412.0" cy="416.3" r="3.4"/><circle cx="408.5" cy="435.2" r="3.4"/><circle cx="401.9" cy="435.1" r="3.4"/><circle cx="415.4" cy="423.8" r="3.4"/><circle cx="404.1" cy="416.4" r="3.4"/><circle cx="418.8" cy="429.8" r="3.4"/><circle cx="475.7" cy="421.8" r="3.4"/><circle cx="473.9" cy="412.4" r="3.4"/><circle cx="473.8" cy="429.6" r="3.4"/><circle cx="478.0" cy="424.1" r="3.4"/><circle cx="477.0" cy="434.4" r="3.4"/><circle cx="472.3" cy="423.5" r="3.4"/><circle cx="479.4" cy="425.2" r="3.4"/><circle cx="470.0" cy="436.0" r="3.4"/><circle cx="475.5" cy="430.4" r="3.4"/><circle cx="469.9" cy="427.8" r="3.4"/><circle cx="474.7" cy="416.2" r="3.4"/><circle cx="475.7" cy="411.0" r="3.4"/><circle cx="469.5" cy="419.3" r="3.4"/><circle cx="477.2" cy="433.0" r="3.4"/><circle cx="470.5" cy="429.8" r="3.4"/><circle cx="471.6" cy="424.1" r="3.4"/><circle cx="480.0" cy="411.2" r="3.4"/><circle cx="470.9" cy="416.1" r="3.4"/><circle cx="480.7" cy="416.2" r="3.4"/><circle cx="479.6" cy="432.4" r="3.4"/><circle cx="479.9" cy="415.9" r="3.4"/><circle cx="468.1" cy="432.0" r="3.4"/><circle cx="476.4" cy="416.8" r="3.4"/><circle cx="469.2" cy="410.3" r="3.4"/><circle cx="467.7" cy="411.2" r="3.4"/><circle cx="471.3" cy="436.1" r="3.4"/><circle cx="472.4" cy="410.9" r="3.4"/><circle cx="475.1" cy="424.0" r="3.4"/><circle cx="479.0" cy="435.2" r="3.4"/><circle cx="469.3" cy="425.4" r="3.4"/><circle cx="495.5" cy="416.7" r="3.4"/><circle cx="483.9" cy="423.8" r="3.4"/><circle cx="477.6" cy="417.6" r="3.4"/><circle cx="487.3" cy="424.0" r="3.4"/><circle cx="486.9" cy="416.0" r="3.4"/><circle cx="477.7" cy="412.3" r="3.4"/><circle cx="478.0" cy="424.2" r="3.4"/><circle cx="491.0" cy="429.7" r="3.4"/><circle cx="491.7" cy="415.4" r="3.4"/><circle cx="481.7" cy="423.8" r="3.4"/><circle cx="489.3" cy="410.7" r="3.4"/><circle cx="480.8" cy="410.3" r="3.4"/><circle cx="462.8" cy="404.6" r="3.4"/><circle cx="481.3" cy="404.7" r="3.4"/><circle cx="456.6" cy="404.0" r="3.4"/><circle cx="497.3" cy="404.2" r="3.4"/><circle cx="504.2" cy="404.6" r="3.4"/><circle cx="500.2" cy="404.5" r="3.4"/><circle cx="474.9" cy="404.4" r="3.4"/><circle cx="465.5" cy="403.9" r="3.4"/><circle cx="490.5" cy="404.9" r="3.4"/><circle cx="459.7" cy="404.3" r="3.4"/><circle cx="447.3" cy="404.3" r="3.4"/><circle cx="479.6" cy="404.3" r="3.4"/><circle cx="441.8" cy="405.5" r="3.4"/><circle cx="492.0" cy="404.1" r="3.4"/><circle cx="445.1" cy="405.3" r="3.4"/><circle cx="452.6" cy="404.4" r="3.4"/><circle cx="482.8" cy="404.9" r="3.4"/><circle cx="447.9" cy="406.0" r="3.4"/><circle cx="499.5" cy="406.3" r="3.4"/><circle cx="469.8" cy="404.1" r="3.4"/><circle cx="468.0" cy="404.1" r="3.4"/><circle cx="506.7" cy="406.1" r="3.4"/><circle cx="476.2" cy="403.8" r="3.4"/><circle cx="457.6" cy="404.2" r="3.4"/><circle cx="450.9" cy="404.4" r="3.4"/><circle cx="463.2" cy="393.5" r="3.4"/><circle cx="500.8" cy="393.9" r="3.4"/><circle cx="506.5" cy="395.1" r="3.4"/><circle cx="457.4" cy="393.7" r="3.4"/><circle cx="493.6" cy="394.0" r="3.4"/><circle cx="490.9" cy="393.7" r="3.4"/><circle cx="504.7" cy="394.1" r="3.4"/><circle cx="457.2" cy="393.4" r="3.4"/><circle cx="470.7" cy="394.0" r="3.4"/><circle cx="494.0" cy="393.5" r="3.4"/><circle cx="457.9" cy="391.9" r="3.4"/><circle cx="501.4" cy="393.6" r="3.4"/><circle cx="507.0" cy="391.9" r="3.4"/><circle cx="466.3" cy="394.0" r="3.4"/><circle cx="500.5" cy="393.9" r="3.4"/><circle cx="495.8" cy="393.9" r="3.4"/><circle cx="474.2" cy="393.8" r="3.4"/><circle cx="463.1" cy="393.8" r="3.4"/><circle cx="463.8" cy="391.9" r="3.4"/><circle cx="499.0" cy="391.9" r="3.4"/><circle cx="461.1" cy="392.0" r="3.4"/><circle cx="473.0" cy="393.8" r="3.4"/><circle cx="484.5" cy="393.3" r="3.4"/><circle cx="455.1" cy="394.3" r="3.4"/><circle cx="488.8" cy="393.9" r="3.4"/><circle cx="482.2" cy="392.3" r="3.4"/><circle cx="473.7" cy="395.5" r="3.4"/><circle cx="478.0" cy="393.6" r="3.4"/><circle cx="457.0" cy="395.2" r="3.4"/><circle cx="479.8" cy="395.0" r="3.4"/><circle cx="503.7" cy="394.2" r="3.4"/><circle cx="465.1" cy="394.5" r="3.4"/><circle cx="491.9" cy="394.2" r="3.4"/><circle cx="457.9" cy="394.0" r="3.4"/><circle cx="455.5" cy="393.5" r="3.4"/><circle cx="472.0" cy="393.6" r="3.4"/><circle cx="477.3" cy="394.3" r="3.4"/><circle cx="478.2" cy="394.5" r="3.4"/><circle cx="492.2" cy="393.6" r="3.4"/><circle cx="462.5" cy="394.4" r="3.4"/><circle cx="461.1" cy="393.7" r="3.4"/><circle cx="476.9" cy="393.4" r="3.4"/><circle cx="459.3" cy="392.8" r="3.4"/><circle cx="487.3" cy="394.3" r="3.4"/><circle cx="478.3" cy="392.1" r="3.4"/><circle cx="465.2" cy="393.5" r="3.4"/><circle cx="473.7" cy="391.5" r="3.4"/><circle cx="472.7" cy="394.3" r="3.4"/><circle cx="501.7" cy="391.9" r="3.4"/><circle cx="495.1" cy="393.9" r="3.4"/><circle cx="470.1" cy="392.8" r="3.4"/><circle cx="485.4" cy="394.2" r="3.4"/><circle cx="468.4" cy="393.5" r="3.4"/><circle cx="498.5" cy="394.1" r="3.4"/><circle cx="461.3" cy="394.3" r="3.4"/><circle cx="501.8" cy="394.0" r="3.4"/><circle cx="489.6" cy="393.6" r="3.4"/><circle cx="496.4" cy="394.2" r="3.4"/><circle cx="482.0" cy="393.2" r="3.4"/><circle cx="481.6" cy="394.5" r="3.4"/><circle cx="436.0" cy="395.9" r="3.4"/><circle cx="449.5" cy="397.1" r="3.4"/><circle cx="447.9" cy="393.6" r="3.4"/><circle cx="443.3" cy="397.7" r="3.4"/><circle cx="442.8" cy="393.8" r="3.4"/><circle cx="472.8" cy="382.5" r="3.4"/><circle cx="505.2" cy="382.6" r="3.4"/><circle cx="534.0" cy="381.8" r="3.4"/><circle cx="519.0" cy="381.9" r="3.4"/><circle cx="467.1" cy="382.8" r="3.4"/><circle cx="443.8" cy="382.5" r="3.4"/><circle cx="464.1" cy="382.6" r="3.4"/><circle cx="499.7" cy="383.5" r="3.4"/><circle cx="457.0" cy="382.2" r="3.4"/><circle cx="437.2" cy="383.4" r="3.4"/><circle cx="520.5" cy="382.3" r="3.4"/><circle cx="485.4" cy="382.1" r="3.4"/><circle cx="527.2" cy="382.6" r="3.4"/><circle cx="508.2" cy="382.3" r="3.4"/><circle cx="498.1" cy="382.3" r="3.4"/><circle cx="497.1" cy="382.7" r="3.4"/><circle cx="482.8" cy="382.3" r="3.4"/><circle cx="493.0" cy="382.3" r="3.4"/><circle cx="477.5" cy="382.0" r="3.4"/><circle cx="508.4" cy="382.5" r="3.4"/><circle cx="471.8" cy="382.5" r="3.4"/><circle cx="489.8" cy="382.5" r="3.4"/><circle cx="464.0" cy="382.7" r="3.4"/><circle cx="510.8" cy="381.9" r="3.4"/><circle cx="476.9" cy="369.2" r="3.4"/><circle cx="506.5" cy="370.1" r="3.4"/><circle cx="464.7" cy="370.5" r="3.4"/><circle cx="462.5" cy="374.3" r="3.4"/><circle cx="461.7" cy="376.4" r="3.4"/><circle cx="492.6" cy="367.8" r="3.4"/><circle cx="503.4" cy="366.3" r="3.4"/><circle cx="479.3" cy="368.0" r="3.4"/><circle cx="471.5" cy="376.3" r="3.4"/><circle cx="509.5" cy="369.1" r="3.4"/><circle cx="480.2" cy="370.7" r="3.4"/><circle cx="486.6" cy="372.2" r="3.4"/><circle cx="490.1" cy="377.9" r="3.4"/><circle cx="499.1" cy="366.3" r="3.4"/><circle cx="512.7" cy="378.4" r="3.4"/><circle cx="483.3" cy="367.1" r="3.4"/><circle cx="511.9" cy="375.9" r="3.4"/><circle cx="489.2" cy="373.3" r="3.4"/><circle cx="487.4" cy="369.3" r="3.4"/><circle cx="506.9" cy="377.4" r="3.4"/><circle cx="471.6" cy="376.5" r="3.4"/><circle cx="488.3" cy="375.0" r="3.4"/><circle cx="472.8" cy="375.6" r="3.4"/><circle cx="505.2" cy="369.1" r="3.4"/><circle cx="478.0" cy="375.6" r="3.4"/><circle cx="512.9" cy="371.1" r="3.4"/><circle cx="464.6" cy="376.4" r="3.4"/><circle cx="460.9" cy="373.0" r="3.4"/><circle cx="497.5" cy="370.2" r="3.4"/><circle cx="496.8" cy="373.6" r="3.4"/><circle cx="484.6" cy="373.9" r="3.4"/><circle cx="511.6" cy="368.4" r="3.4"/><circle cx="460.5" cy="376.3" r="3.4"/><circle cx="477.2" cy="378.7" r="3.4"/><circle cx="496.2" cy="369.2" r="3.4"/><circle cx="492.9" cy="377.6" r="3.4"/><circle cx="504.3" cy="375.9" r="3.4"/><circle cx="493.5" cy="372.7" r="3.4"/><circle cx="501.0" cy="375.7" r="3.4"/><circle cx="497.8" cy="375.5" r="3.4"/><circle cx="487.0" cy="372.2" r="3.4"/><circle cx="471.8" cy="370.6" r="3.4"/><circle cx="464.4" cy="366.8" r="3.4"/><circle cx="503.2" cy="369.4" r="3.4"/><circle cx="481.8" cy="378.5" r="3.4"/><circle cx="498.8" cy="371.6" r="3.4"/><circle cx="503.3" cy="376.1" r="3.4"/><circle cx="490.6" cy="368.2" r="3.4"/><circle cx="475.5" cy="372.3" r="3.4"/><circle cx="502.5" cy="377.3" r="3.4"/><circle cx="507.2" cy="366.4" r="3.4"/><circle cx="513.5" cy="366.5" r="3.4"/><circle cx="494.6" cy="378.7" r="3.4"/><circle cx="487.0" cy="377.4" r="3.4"/><circle cx="465.8" cy="369.1" r="3.4"/><circle cx="460.1" cy="370.4" r="3.4"/><circle cx="504.2" cy="378.0" r="3.4"/><circle cx="509.2" cy="376.0" r="3.4"/><circle cx="468.6" cy="369.8" r="3.4"/><circle cx="513.8" cy="376.2" r="3.4"/><circle cx="510.9" cy="377.7" r="3.4"/><circle cx="478.6" cy="376.3" r="3.4"/><circle cx="471.0" cy="370.1" r="3.4"/><circle cx="467.7" cy="375.6" r="3.4"/><circle cx="460.0" cy="369.2" r="3.4"/><circle cx="507.6" cy="374.4" r="3.4"/><circle cx="505.9" cy="369.1" r="3.4"/><circle cx="470.7" cy="367.8" r="3.4"/><circle cx="475.3" cy="376.3" r="3.4"/><circle cx="475.1" cy="374.9" r="3.4"/><circle cx="509.0" cy="371.6" r="3.4"/><circle cx="486.3" cy="377.5" r="3.4"/><circle cx="472.0" cy="372.8" r="3.4"/><circle cx="494.1" cy="366.7" r="3.4"/><circle cx="491.5" cy="374.3" r="3.4"/><circle cx="497.4" cy="368.2" r="3.4"/><circle cx="481.8" cy="372.6" r="3.4"/><circle cx="467.9" cy="366.8" r="3.4"/><circle cx="474.1" cy="369.0" r="3.4"/><circle cx="489.0" cy="367.0" r="3.4"/><circle cx="472.2" cy="374.2" r="3.4"/><circle cx="511.8" cy="371.6" r="3.4"/><circle cx="488.1" cy="374.0" r="3.4"/><circle cx="466.1" cy="371.1" r="3.4"/><circle cx="483.5" cy="376.9" r="3.4"/><circle cx="481.9" cy="369.5" r="3.4"/><circle cx="495.8" cy="378.5" r="3.4"/><circle cx="482.9" cy="375.4" r="3.4"/><circle cx="495.9" cy="376.2" r="3.4"/><circle cx="466.1" cy="374.7" r="3.4"/><circle cx="495.0" cy="369.1" r="3.4"/><circle cx="477.9" cy="374.0" r="3.4"/><circle cx="465.5" cy="376.1" r="3.4"/><circle cx="469.6" cy="371.5" r="3.4"/><circle cx="467.5" cy="376.0" r="3.4"/><circle cx="502.0" cy="371.8" r="3.4"/><circle cx="463.4" cy="369.0" r="3.4"/><circle cx="511.5" cy="373.7" r="3.4"/><circle cx="482.9" cy="369.3" r="3.4"/><circle cx="461.0" cy="375.2" r="3.4"/><circle cx="499.7" cy="367.0" r="3.4"/><circle cx="462.4" cy="377.9" r="3.4"/><circle cx="500.1" cy="370.5" r="3.4"/><circle cx="510.0" cy="367.4" r="3.4"/><circle cx="481.5" cy="369.1" r="3.4"/><circle cx="478.6" cy="378.1" r="3.4"/><circle cx="476.0" cy="369.2" r="3.4"/><circle cx="498.4" cy="378.6" r="3.4"/><circle cx="506.4" cy="375.9" r="3.4"/><circle cx="477.4" cy="367.3" r="3.4"/><circle cx="486.2" cy="369.6" r="3.4"/><circle cx="513.8" cy="368.9" r="3.4"/><circle cx="473.7" cy="369.3" r="3.4"/><circle cx="472.6" cy="377.0" r="3.4"/><circle cx="486.4" cy="374.4" r="3.4"/><circle cx="467.6" cy="367.9" r="3.4"/><circle cx="495.4" cy="372.5" r="3.4"/><circle cx="486.0" cy="376.1" r="3.4"/><circle cx="474.4" cy="366.3" r="3.4"/><circle cx="476.6" cy="369.6" r="3.4"/><circle cx="463.5" cy="367.2" r="3.4"/><circle cx="514.3" cy="375.7" r="3.4"/><circle cx="501.2" cy="369.7" r="3.4"/><circle cx="468.1" cy="376.1" r="3.4"/><circle cx="490.6" cy="369.4" r="3.4"/><circle cx="507.5" cy="371.5" r="3.4"/><circle cx="463.2" cy="371.7" r="3.4"/><circle cx="490.3" cy="370.1" r="3.4"/><circle cx="505.7" cy="373.9" r="3.4"/><circle cx="493.3" cy="369.7" r="3.4"/><circle cx="493.0" cy="369.4" r="3.4"/><circle cx="501.4" cy="375.6" r="3.4"/><circle cx="479.4" cy="369.8" r="3.4"/><circle cx="491.0" cy="376.4" r="3.4"/><circle cx="480.3" cy="373.9" r="3.4"/><circle cx="465.6" cy="369.6" r="3.4"/><circle cx="493.6" cy="375.8" r="3.4"/><circle cx="498.2" cy="369.3" r="3.4"/><circle cx="484.5" cy="370.2" r="3.4"/><circle cx="481.9" cy="374.7" r="3.4"/><circle cx="504.7" cy="367.7" r="3.4"/><circle cx="499.4" cy="376.2" r="3.4"/><circle cx="465.5" cy="374.2" r="3.4"/><circle cx="475.9" cy="378.0" r="3.4"/><circle cx="493.3" cy="376.1" r="3.4"/><circle cx="460.3" cy="368.3" r="3.4"/><circle cx="511.4" cy="368.3" r="3.4"/><circle cx="469.1" cy="376.2" r="3.4"/><circle cx="473.6" cy="366.3" r="3.4"/><circle cx="508.4" cy="378.5" r="3.4"/><circle cx="503.3" cy="382.2" r="3.4"/><circle cx="472.8" cy="382.0" r="3.4"/><circle cx="487.6" cy="382.4" r="3.4"/><circle cx="481.1" cy="382.6" r="3.4"/><circle cx="458.2" cy="385.4" r="3.4"/><circle cx="499.0" cy="382.0" r="3.4"/><circle cx="515.2" cy="382.5" r="3.4"/><circle cx="487.5" cy="382.0" r="3.4"/><circle cx="474.8" cy="382.2" r="3.4"/><circle cx="467.8" cy="381.9" r="3.4"/><circle cx="504.8" cy="382.4" r="3.4"/><circle cx="459.2" cy="381.9" r="3.4"/><circle cx="493.9" cy="382.4" r="3.4"/><circle cx="490.3" cy="382.5" r="3.4"/><circle cx="482.4" cy="382.1" r="3.4"/><circle cx="485.0" cy="382.4" r="3.4"/><circle cx="464.6" cy="382.2" r="3.4"/><circle cx="486.4" cy="382.6" r="3.4"/><circle cx="530.5" cy="368.9" r="3.4"/><circle cx="519.6" cy="368.8" r="3.4"/><circle cx="530.2" cy="374.1" r="3.4"/><circle cx="539.7" cy="371.4" r="3.4"/><circle cx="528.5" cy="368.6" r="3.4"/><circle cx="534.5" cy="369.1" r="3.4"/><circle cx="523.3" cy="372.1" r="3.4"/><circle cx="537.2" cy="369.3" r="3.4"/><circle cx="520.5" cy="371.7" r="3.4"/><circle cx="526.6" cy="369.1" r="3.4"/><circle cx="525.8" cy="370.5" r="3.4"/><circle cx="536.0" cy="368.9" r="3.4"/><circle cx="509.6" cy="363.9" r="3.4"/><circle cx="484.8" cy="363.4" r="3.4"/><circle cx="479.2" cy="363.0" r="3.4"/><circle cx="516.2" cy="363.9" r="3.4"/><circle cx="475.3" cy="363.3" r="3.4"/><circle cx="502.4" cy="363.1" r="3.4"/><circle cx="507.5" cy="363.5" r="3.4"/><circle cx="504.6" cy="363.7" r="3.4"/><circle cx="479.4" cy="363.6" r="3.4"/><circle cx="491.4" cy="363.5" r="3.4"/><circle cx="492.9" cy="363.0" r="3.4"/><circle cx="498.0" cy="363.8" r="3.4"/><circle cx="472.9" cy="363.7" r="3.4"/><circle cx="487.3" cy="363.5" r="3.4"/><circle cx="486.2" cy="363.4" r="3.4"/><circle cx="481.9" cy="363.2" r="3.4"/><circle cx="508.8" cy="363.2" r="3.4"/><circle cx="502.9" cy="363.2" r="3.4"/><circle cx="536.4" cy="343.2" r="3.4"/><circle cx="537.6" cy="344.9" r="3.4"/><circle cx="515.2" cy="343.5" r="3.4"/><circle cx="530.4" cy="343.5" r="3.4"/><circle cx="529.0" cy="342.9" r="3.4"/><circle cx="515.1" cy="342.9" r="3.4"/><circle cx="506.5" cy="343.2" r="3.4"/><circle cx="530.3" cy="346.4" r="3.4"/><circle cx="534.0" cy="344.1" r="3.4"/><circle cx="509.5" cy="343.9" r="3.4"/><circle cx="538.4" cy="346.8" r="3.4"/><circle cx="536.3" cy="346.5" r="3.4"/><circle cx="524.2" cy="347.0" r="3.4"/><circle cx="518.6" cy="346.4" r="3.4"/><circle cx="512.1" cy="347.0" r="3.4"/><circle cx="522.4" cy="346.6" r="3.4"/><circle cx="507.6" cy="343.6" r="3.4"/><circle cx="525.1" cy="343.2" r="3.4"/><circle cx="534.1" cy="346.6" r="3.4"/><circle cx="520.5" cy="346.5" r="3.4"/><circle cx="505.7" cy="346.2" r="3.4"/><circle cx="529.0" cy="347.2" r="3.4"/><circle cx="518.3" cy="343.0" r="3.4"/><circle cx="512.8" cy="344.2" r="3.4"/><circle cx="515.8" cy="346.7" r="3.4"/><circle cx="513.5" cy="346.4" r="3.4"/><circle cx="507.3" cy="346.4" r="3.4"/><circle cx="526.3" cy="347.1" r="3.4"/><circle cx="521.0" cy="343.5" r="3.4"/><circle cx="510.7" cy="346.2" r="3.4"/><circle cx="526.8" cy="343.1" r="3.4"/><circle cx="522.7" cy="343.1" r="3.4"/><circle cx="521.6" cy="353.2" r="3.4"/><circle cx="523.7" cy="354.0" r="3.4"/><circle cx="526.2" cy="353.0" r="3.4"/><circle cx="522.9" cy="353.6" r="3.4"/><circle cx="512.3" cy="353.6" r="3.4"/><circle cx="508.2" cy="353.2" r="3.4"/><circle cx="505.8" cy="353.1" r="3.4"/><circle cx="518.0" cy="353.0" r="3.4"/><circle cx="501.5" cy="353.9" r="3.4"/><circle cx="509.4" cy="353.9" r="3.4"/><circle cx="500.3" cy="352.9" r="3.4"/><circle cx="511.9" cy="354.0" r="3.4"/><circle cx="503.7" cy="354.1" r="3.4"/><circle cx="518.7" cy="354.1" r="3.4"/><circle cx="506.2" cy="353.0" r="3.4"/><circle cx="516.7" cy="352.9" r="3.4"/><circle cx="333.5" cy="520.0" r="3.4"/><circle cx="333.5" cy="460.4" r="3.4"/><circle cx="333.5" cy="462.9" r="3.4"/><circle cx="349.6" cy="462.8" r="3.4"/><circle cx="366.6" cy="451.4" r="3.4"/><circle cx="375.6" cy="451.4" r="3.4"/><circle cx="462.9" cy="452.4" r="3.4"/><circle cx="470.9" cy="458.4" r="3.4"/><circle cx="462.9" cy="463.4" r="3.4"/><circle cx="454.9" cy="451.4" r="3.4"/><circle cx="452.9" cy="459.4" r="3.4"/><circle cx="475.9" cy="413.3" r="3.4"/><circle cx="490.0" cy="413.3" r="3.4"/><circle cx="496.0" cy="416.8" r="3.4"/><circle cx="498.0" cy="429.3" r="3.4"/><circle cx="471.9" cy="429.3" r="3.4"/><circle cx="475.9" cy="429.3" r="3.4"/><circle cx="495.0" cy="416.3" r="3.4"/><circle cx="478.9" cy="438.4" r="3.4"/><circle cx="473.9" cy="441.4" r="3.4"/><circle cx="425.5" cy="413.9" r="3.4"/><circle cx="432.1" cy="412.8" r="3.4"/><circle cx="403.6" cy="417.2" r="3.4"/><circle cx="404.1" cy="417.2" r="3.4"/><circle cx="414.5" cy="417.2" r="3.4"/><circle cx="419.0" cy="417.2" r="3.4"/><circle cx="410.1" cy="423.7" r="3.4"/><circle cx="415.6" cy="423.2" r="3.4"/><circle cx="397.1" cy="429.7" r="3.4"/><circle cx="400.3" cy="429.7" r="3.4"/><circle cx="403.6" cy="429.7" r="3.4"/><circle cx="413.4" cy="429.7" r="3.4"/><circle cx="407.7" cy="430.3" r="3.4"/><circle cx="410.1" cy="405.2" r="3.4"/><circle cx="422.8" cy="404.7" r="3.4"/><circle cx="423.8" cy="405.3" r="3.4"/><circle cx="431.5" cy="405.2" r="3.4"/><circle cx="437.5" cy="404.7" r="3.4"/><circle cx="481.9" cy="405.3" r="3.4"/><circle cx="488.0" cy="405.3" r="3.4"/><circle cx="495.0" cy="405.3" r="3.4"/><circle cx="506.0" cy="405.3" r="3.4"/><circle cx="433.1" cy="396.5" r="3.4"/><circle cx="436.4" cy="396.5" r="3.4"/><circle cx="438.6" cy="393.2" r="3.4"/><circle cx="427.7" cy="394.3" r="3.4"/><circle cx="416.8" cy="393.2" r="3.4"/><circle cx="516.0" cy="393.8" r="3.4"/><circle cx="527.1" cy="393.8" r="3.4"/><circle cx="540.1" cy="393.8" r="3.4"/><circle cx="518.0" cy="395.3" r="3.4"/><circle cx="450.2" cy="365.9" r="3.4"/><circle cx="447.6" cy="369.5" r="3.4"/><circle cx="449.8" cy="370.3" r="3.4"/><circle cx="437.0" cy="375.9" r="3.4"/><circle cx="442.3" cy="375.9" r="3.4"/><circle cx="447.6" cy="375.9" r="3.4"/><circle cx="452.9" cy="375.9" r="3.4"/><circle cx="439.8" cy="377.3" r="3.4"/><circle cx="435.9" cy="383.9" r="3.4"/><circle cx="472.5" cy="363.7" r="3.4"/><circle cx="521.0" cy="363.9" r="3.4"/><circle cx="527.6" cy="363.5" r="3.4"/><circle cx="540.1" cy="371.3" r="3.4"/><circle cx="419.4" cy="456.9" r="3.4"/><circle cx="413.1" cy="455.6" r="3.4"/><circle cx="410.9" cy="448.8" r="3.4"/><circle cx="518.8" cy="374.8" r="3.4"/><circle cx="491.9" cy="371.7" r="3.4"/><circle cx="505.5" cy="371.8" r="3.4"/><circle cx="516.4" cy="367.4" r="3.4"/><circle cx="459.8" cy="396.4" r="3.4"/><circle cx="466.8" cy="399.4" r="3.4"/><circle cx="467.4" cy="407.9" r="3.4"/><circle cx="462.0" cy="400.3" r="3.4"/><circle cx="458.6" cy="402.3" r="3.4"/><circle cx="484.2" cy="388.4" r="3.4"/><circle cx="472.3" cy="388.7" r="3.4"/><circle cx="483.0" cy="390.4" r="3.4"/><circle cx="475.9" cy="381.1" r="3.4"/><circle cx="489.2" cy="380.6" r="3.4"/><circle cx="492.0" cy="385.1" r="3.4"/><circle cx="495.2" cy="392.2" r="3.4"/><circle cx="475.7" cy="386.9" r="3.4"/><circle cx="483.0" cy="384.6" r="3.4"/><circle cx="470.7" cy="381.2" r="3.4"/><circle cx="393.2" cy="452.0" r="3.4"/><circle cx="399.2" cy="458.5" r="3.4"/><circle cx="394.5" cy="449.2" r="3.4"/><circle cx="394.9" cy="458.1" r="3.4"/><circle cx="333.7" cy="527.8" r="3.4"/><circle cx="339.5" cy="510.4" r="3.4"/><circle cx="340.2" cy="514.9" r="3.4"/><circle cx="346.0" cy="511.1" r="3.4"/><circle cx="349.2" cy="503.4" r="3.4"/><circle cx="356.9" cy="515.6" r="3.4"/><circle cx="358.8" cy="514.9" r="3.4"/><circle cx="365.9" cy="519.4" r="3.4"/><circle cx="358.2" cy="520.1" r="3.4"/><circle cx="354.3" cy="520.1" r="3.4"/><circle cx="350.5" cy="520.7" r="3.4"/><circle cx="375.5" cy="503.4" r="3.4"/><circle cx="379.4" cy="493.8" r="3.4"/><circle cx="387.8" cy="493.8" r="3.4"/><circle cx="383.9" cy="473.8" r="3.4"/><circle cx="410.6" cy="468.7" r="3.4"/><circle cx="429.9" cy="468.7" r="3.4"/><circle cx="442.8" cy="468.7" r="3.4"/><circle cx="354.3" cy="467.4" r="3.4"/><circle cx="353.7" cy="465.6" r="3.4"/><circle cx="362.7" cy="462.4" r="3.4"/><circle cx="369.8" cy="457.9" r="3.4"/><circle cx="370.4" cy="463.0" r="3.4"/><circle cx="386.5" cy="457.9" r="3.4"/><circle cx="383.3" cy="462.4" r="3.4"/><circle cx="390.4" cy="457.9" r="3.4"/><circle cx="396.0" cy="416.8" r="3.4"/><circle cx="428.0" cy="398.1" r="3.4"/><circle cx="431.2" cy="398.8" r="3.4"/><circle cx="449.2" cy="405.2" r="3.4"/><circle cx="456.9" cy="406.5" r="3.4"/><circle cx="443.4" cy="417.5" r="3.4"/><circle cx="420.2" cy="421.3" r="3.4"/><circle cx="422.8" cy="422.0" r="3.4"/><circle cx="420.2" cy="425.2" r="3.4"/><circle cx="429.9" cy="418.7" r="3.4"/><circle cx="433.1" cy="425.8" r="3.4"/><circle cx="421.5" cy="431.0" r="3.4"/><circle cx="439.5" cy="431.6" r="3.4"/><circle cx="454.4" cy="426.5" r="3.4"/><circle cx="392.6" cy="441.2" r="3.4"/><circle cx="412.5" cy="441.2" r="3.4"/><circle cx="411.2" cy="443.7" r="3.4"/><circle cx="434.4" cy="443.1" r="3.4"/><circle cx="446.6" cy="441.2" r="3.4"/><circle cx="450.5" cy="441.8" r="3.4"/><circle cx="454.4" cy="441.2" r="3.4"/><circle cx="458.2" cy="441.8" r="3.4"/><circle cx="432.5" cy="455.3" r="3.4"/><circle cx="435.7" cy="456.6" r="3.4"/><circle cx="428.6" cy="466.9" r="3.4"/><circle cx="401.6" cy="461.7" r="3.4"/><circle cx="406.7" cy="466.9" r="3.4"/><circle cx="439.7" cy="379.3" r="3.4"/><circle cx="452.6" cy="378.6" r="3.4"/><circle cx="453.9" cy="379.9" r="3.4"/><circle cx="427.5" cy="396.6" r="3.4"/><circle cx="431.4" cy="396.6" r="3.4"/><circle cx="474.4" cy="371.2" r="3.4"/><circle cx="477.1" cy="372.3" r="3.4"/><circle cx="494.5" cy="370.7" r="3.4"/><circle cx="472.7" cy="385.9" r="3.4"/><circle cx="476.0" cy="384.9" r="3.4"/><circle cx="478.7" cy="386.5" r="3.4"/><circle cx="482.0" cy="385.9" r="3.4"/><circle cx="485.8" cy="384.3" r="3.4"/><circle cx="495.6" cy="384.3" r="3.4"/><circle cx="467.8" cy="392.0" r="3.4"/><circle cx="486.9" cy="392.0" r="3.4"/><circle cx="484.7" cy="403.9" r="3.4"/><circle cx="443.3" cy="412.7" r="3.4"/><circle cx="504.1" cy="347.1" r="3.4"/><circle cx="540.9" cy="343.0" r="3.4"/><circle cx="497.3" cy="354.6" r="3.4"/><circle cx="515.0" cy="353.9" r="3.4"/><circle cx="520.5" cy="354.6" r="3.4"/><circle cx="510.9" cy="358.0" r="3.4"/><circle cx="506.8" cy="356.0" r="3.4"/><circle cx="538.9" cy="375.6" r="3.4"/><circle cx="535.5" cy="381.8" r="3.4"/><circle cx="522.5" cy="378.3" r="3.4"/><circle cx="501.4" cy="382.4" r="3.4"/><circle cx="517.7" cy="381.1" r="3.4"/><circle cx="510.9" cy="392.0" r="3.4"/><circle cx="516.4" cy="396.1" r="3.4"/><circle cx="512.3" cy="390.6" r="3.4"/><circle cx="531.0" cy="371.0" r="3.4"/><circle cx="513.5" cy="383.0" r="3.4"/><circle cx="513.0" cy="373.5" r="3.4"/><circle cx="516.0" cy="371.5" r="3.4"/><circle cx="519.0" cy="372.5" r="3.4"/><circle cx="492.0" cy="391.5" r="3.4"/><circle cx="499.5" cy="396.5" r="3.4"/><circle cx="513.0" cy="393.5" r="3.4"/><circle cx="511.5" cy="405.5" r="3.4"/><circle cx="511.5" cy="394.1" r="3.4"/><circle cx="461.5" cy="417.9" r="3.4"/><circle cx="467.3" cy="440.7" r="3.4"/><circle cx="480.0" cy="383.7" r="3.4"/><circle cx="476.0" cy="391.3" r="3.4"/><circle cx="489.4" cy="389.0" r="3.4"/><circle cx="463.7" cy="388.7" r="3.4"/><circle cx="481.6" cy="388.4" r="3.4"/><circle cx="464.5" cy="384.3" r="3.4"/><circle cx="488.5" cy="384.4" r="3.4"/><circle cx="471.1" cy="384.8" r="3.4"/><circle cx="486.2" cy="386.3" r="3.4"/><circle cx="477.2" cy="387.6" r="3.4"/><circle cx="468.5" cy="386.5" r="3.4"/><circle cx="466.7" cy="395.6" r="3.4"/><circle cx="468.9" cy="389.1" r="3.4"/><circle cx="469.3" cy="396.2" r="3.4"/><circle cx="462.8" cy="406.7" r="3.4"/><circle cx="493.9" cy="364.7" r="3.4"/><circle cx="479.3" cy="365.3" r="3.4"/><circle cx="501.1" cy="361.6" r="3.4"/><circle cx="475.9" cy="365.8" r="3.4"/><circle cx="484.3" cy="365.5" r="3.4"/><circle cx="499.1" cy="374.0" r="3.4"/><circle cx="529.4" cy="365.4" r="3.4"/><circle cx="520.7" cy="366.9" r="3.4"/><circle cx="508.2" cy="368.0" r="3.4"/><circle cx="515.5" cy="369.4" r="3.4"/><circle cx="520.8" cy="369.7" r="3.4"/><circle cx="407.9" cy="456.5" r="3.4"/><circle cx="442.5" cy="440.2" r="3.4"/><circle cx="434.4" cy="439.7" r="3.4"/><circle cx="444.7" cy="437.0" r="3.4"/><circle cx="432.7" cy="438.2" r="3.4"/><circle cx="333.1" cy="538.7" r="3.4"/><circle cx="332.4" cy="519.0" r="3.4"/><circle cx="336.4" cy="520.4" r="3.4"/><circle cx="345.3" cy="506.1" r="3.4"/><circle cx="352.8" cy="510.8" r="3.4"/><circle cx="357.5" cy="510.8" r="3.4"/><circle cx="362.9" cy="510.8" r="3.4"/><circle cx="352.8" cy="515.6" r="3.4"/><circle cx="351.4" cy="519.0" r="3.4"/><circle cx="362.9" cy="520.4" r="3.4"/><circle cx="381.9" cy="494.5" r="3.4"/><circle cx="388.8" cy="492.5" r="3.4"/><circle cx="368.4" cy="466.7" r="3.4"/><circle cx="380.6" cy="467.4" r="3.4"/><circle cx="387.4" cy="466.0" r="3.4"/><circle cx="338.5" cy="459.5" r="3.4"/><circle cx="365.7" cy="460.9" r="3.4"/><circle cx="373.2" cy="460.9" r="3.4"/><circle cx="377.8" cy="460.2" r="3.4"/><circle cx="377.8" cy="447.3" r="3.4"/><circle cx="379.2" cy="448.6" r="3.4"/><circle cx="380.6" cy="450.7" r="3.4"/><circle cx="399.6" cy="447.9" r="3.4"/><circle cx="385.0" cy="449.7" r="3.4"/><circle cx="367.8" cy="462.5" r="3.4"/><circle cx="386.8" cy="460.6" r="3.4"/><circle cx="403.1" cy="446.1" r="3.4"/><circle cx="404.9" cy="447.9" r="3.4"/><circle cx="407.6" cy="449.7" r="3.4"/><circle cx="402.2" cy="474.2" r="3.4"/><circle cx="414.0" cy="441.7" r="3.4"/><circle cx="413.1" cy="446.1" r="3.4"/><circle cx="413.0" cy="425.3" r="3.4"/><circle cx="421.7" cy="423.9" r="3.4"/><circle cx="425.8" cy="422.6" r="3.4"/><circle cx="434.0" cy="421.9" r="3.4"/><circle cx="436.6" cy="432.1" r="3.4"/><circle cx="448.9" cy="423.9" r="3.4"/><circle cx="462.4" cy="422.6" r="3.4"/><circle cx="444.8" cy="441.0" r="3.4"/><circle cx="410.9" cy="453.8" r="3.4"/><circle cx="427.2" cy="449.7" r="3.4"/><circle cx="429.9" cy="453.8" r="3.4"/><circle cx="428.5" cy="459.3" r="3.4"/><circle cx="434.0" cy="457.9" r="3.4"/><circle cx="439.4" cy="461.3" r="3.4"/><circle cx="436.6" cy="462.0" r="3.4"/><circle cx="424.4" cy="382.1" r="3.4"/><circle cx="446.2" cy="372.0" r="3.4"/><circle cx="455.6" cy="371.3" r="3.4"/><circle cx="457.7" cy="374.0" r="3.4"/><circle cx="451.6" cy="376.6" r="3.4"/><circle cx="449.6" cy="379.4" r="3.4"/><circle cx="454.4" cy="382.8" r="3.4"/><circle cx="455.6" cy="378.7" r="3.4"/><circle cx="441.4" cy="382.1" r="3.4"/><circle cx="440.0" cy="384.1" r="3.4"/><circle cx="463.8" cy="365.1" r="3.4"/><circle cx="467.9" cy="378.7" r="3.4"/><circle cx="438.0" cy="391.6" r="3.4"/><circle cx="439.4" cy="396.4" r="3.4"/><circle cx="412.3" cy="419.5" r="3.4"/><circle cx="415.0" cy="420.8" r="3.4"/><circle cx="432.6" cy="416.8" r="3.4"/><circle cx="440.7" cy="414.1" r="3.4"/><circle cx="453.0" cy="416.8" r="3.4"/><circle cx="459.7" cy="418.1" r="3.4"/><circle cx="508.9" cy="346.8" r="3.4"/><circle cx="526.1" cy="345.4" r="3.4"/><circle cx="535.6" cy="344.7" r="3.4"/><circle cx="499.9" cy="354.3" r="3.4"/><circle cx="526.8" cy="355.0" r="3.4"/><circle cx="483.5" cy="372.2" r="3.4"/><circle cx="528.1" cy="371.5" r="3.4"/><circle cx="533.0" cy="371.5" r="3.4"/><circle cx="534.4" cy="374.3" r="3.4"/><circle cx="535.6" cy="377.0" r="3.4"/><circle cx="537.0" cy="379.7" r="3.4"/><circle cx="518.5" cy="378.4" r="3.4"/><circle cx="499.9" cy="380.4" r="3.4"/><circle cx="503.4" cy="392.2" r="3.4"/><circle cx="512.4" cy="395.6" r="3.4"/><circle cx="491.7" cy="396.3" r="3.4"/><circle cx="482.1" cy="403.1" r="3.4"/><circle cx="479.3" cy="414.3" r="3.4"/><circle cx="484.8" cy="413.6" r="3.4"/><circle cx="451.5" cy="381.4" r="3.4"/><circle cx="433.1" cy="403.7" r="3.4"/><circle cx="459.6" cy="407.5" r="3.4"/><circle cx="482.9" cy="412.9" r="3.4"/><circle cx="476.4" cy="424.8" r="3.4"/><circle cx="438.4" cy="417.3" r="3.4"/><circle cx="445.0" cy="414.0" r="3.4"/><circle cx="432.0" cy="419.5" r="3.4"/><circle cx="436.2" cy="420.5" r="3.4"/><circle cx="459.0" cy="414.0" r="3.4"/><circle cx="463.4" cy="414.0" r="3.4"/></g><rect x="327.50" y="326.40" width="213.90" height="213.40" fill="none" stroke="#6e6e6e" stroke-width="1"/><path d="M333.53 539.80v-2.1M333.53 326.40v2.1M327.50 533.79h2.1M541.40 533.79h-2.1" stroke="#6e6e6e" stroke-width="0.8" fill="none"/><text transform="translate(331.83,555.80) scale(1.08,1)" text-anchor="middle" font-size="10.6" fill="#262626"><tspan>−</tspan><tspan dx="1.0">1</tspan></text><text transform="translate(322.70,538.19) scale(1.08,1)" text-anchor="end" font-size="10.6" fill="#262626"><tspan>−</tspan><tspan dx="0.6">1</tspan></text><path d="M385.50 539.80v-2.1M385.50 326.40v2.1M327.50 481.94h2.1M541.40 481.94h-2.1" stroke="#6e6e6e" stroke-width="0.8" fill="none"/><text transform="translate(383.80,555.80) scale(1.08,1)" text-anchor="middle" font-size="10.6" fill="#262626"><tspan>−</tspan><tspan dx="1.0">0.5</tspan></text><text transform="translate(322.70,486.34) scale(1.08,1)" text-anchor="end" font-size="10.6" fill="#262626"><tspan>−</tspan><tspan dx="0.6">0.5</tspan></text><path d="M437.46 539.80v-2.1M437.46 326.40v2.1M327.50 430.09h2.1M541.40 430.09h-2.1" stroke="#6e6e6e" stroke-width="0.8" fill="none"/><text transform="translate(437.46,555.80) scale(1.08,1)" text-anchor="middle" font-size="10.6" fill="#262626">0</text><text transform="translate(322.70,434.49) scale(1.08,1)" text-anchor="end" font-size="10.6" fill="#262626">0</text><path d="M489.43 539.80v-2.1M489.43 326.40v2.1M327.50 378.25h2.1M541.40 378.25h-2.1" stroke="#6e6e6e" stroke-width="0.8" fill="none"/><text transform="translate(489.43,555.80) scale(1.08,1)" text-anchor="middle" font-size="10.6" fill="#262626">0.5</text><text transform="translate(322.70,382.65) scale(1.08,1)" text-anchor="end" font-size="10.6" fill="#262626">0.5</text><path d="M541.40 539.80v-2.1M541.40 326.40v2.1M327.50 326.40h2.1M541.40 326.40h-2.1" stroke="#6e6e6e" stroke-width="0.8" fill="none"/><text transform="translate(541.40,555.80) scale(1.08,1)" text-anchor="middle" font-size="10.6" fill="#262626">1</text><text transform="translate(322.70,330.80) scale(1.08,1)" text-anchor="end" font-size="10.6" fill="#262626">1</text><text transform="translate(434.45,319.10) scale(1.07,1)" text-anchor="middle" font-size="13.4" font-weight="bold" fill="#000">All: R=0.95896</text><text transform="translate(434.45,574.30) scale(1.07,1)" text-anchor="middle" font-size="13.4" font-weight="bold" fill="#000">Target</text><text transform="translate(296.40,433.60) rotate(-90) scale(1.0,1)" text-anchor="middle" font-size="14.5" font-weight="bold" fill="#000">Output ~= 0.92*Target + -0.003</text><rect x="336.70" y="335.90" width="71.6" height="45.5" fill="#fff" stroke="#6e6e6e" stroke-width="1"/><circle cx="358.50" cy="345.20" r="3.4" fill="none" stroke="#111" stroke-width="0.95"/><line x1="340.40" y1="358.90" x2="376.50" y2="358.90" stroke="#666666" stroke-width="2.5"/><line x1="340.40" y1="372.90" x2="376.50" y2="372.90" stroke="#5a5a5a" stroke-width="0.9" stroke-dasharray="1 2.7"/><text transform="translate(379.90,348.20) scale(1.03,1)" font-size="9.9" fill="#111">Data</text><text transform="translate(379.90,362.20) scale(1.03,1)" font-size="9.9" fill="#111">Fit</text><text transform="translate(379.90,376.20) scale(1.03,1)" font-size="9.9" fill="#111">Y = T</text></g>
</g>
</svg>
</body></html>
